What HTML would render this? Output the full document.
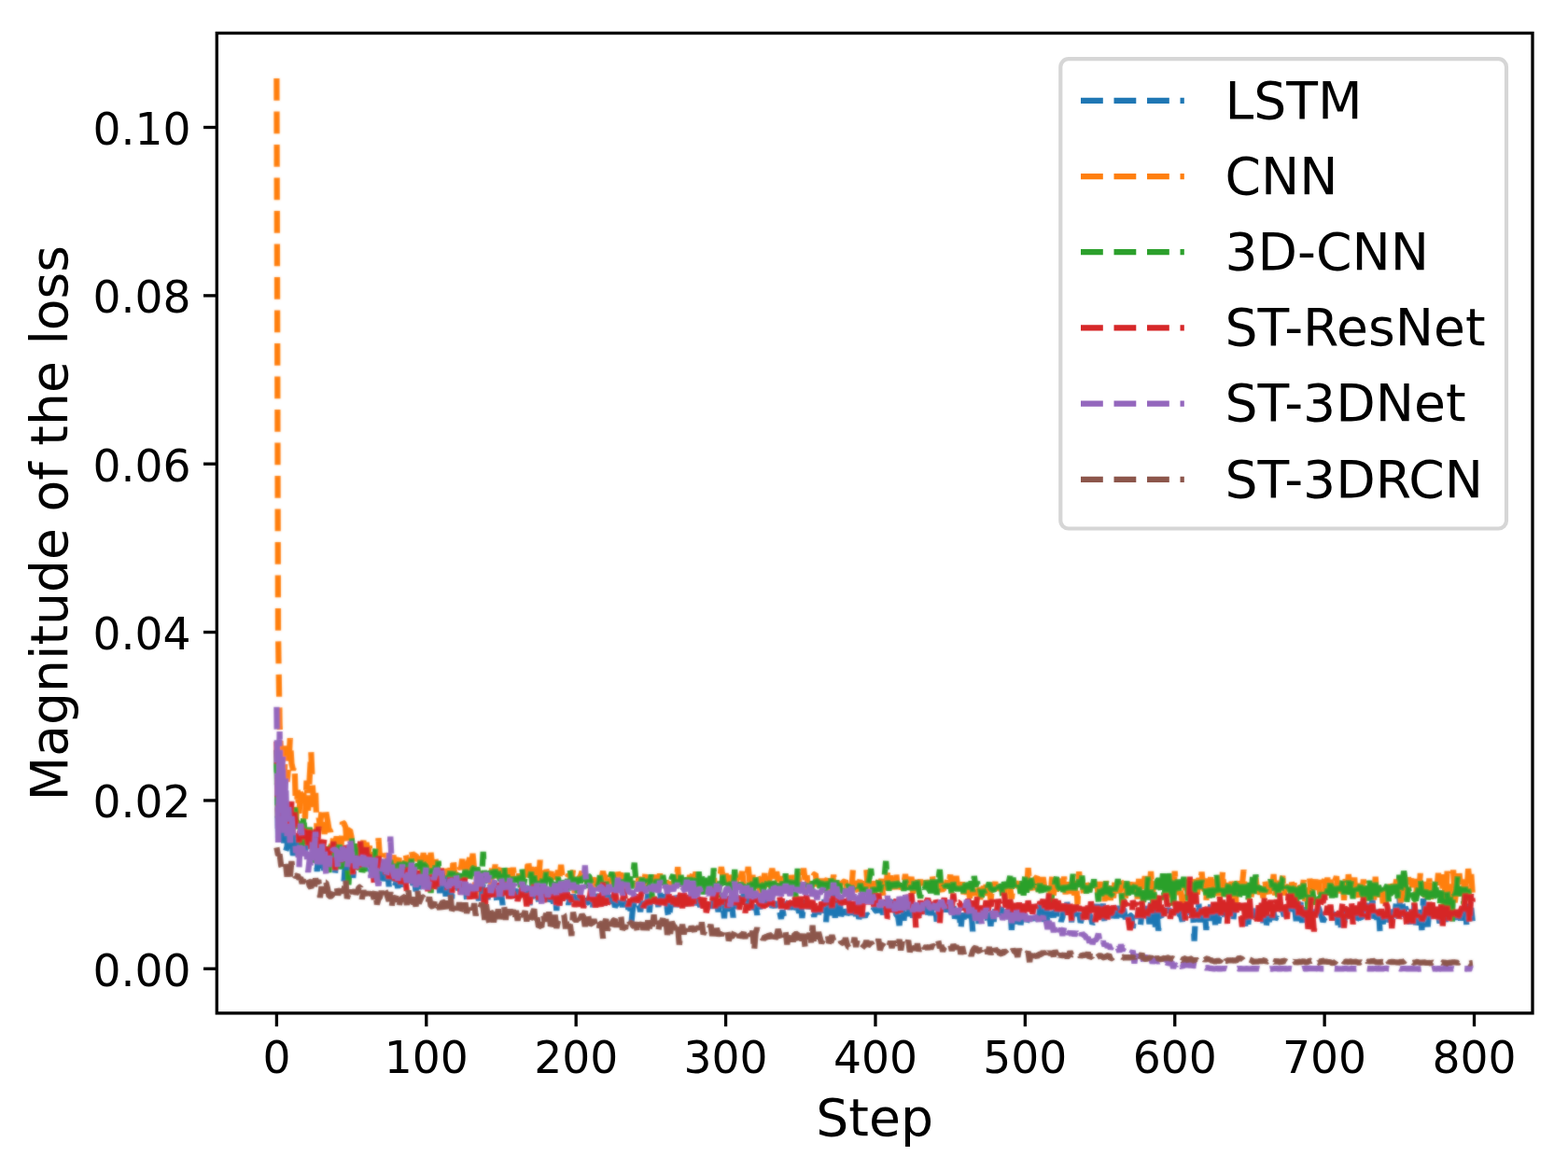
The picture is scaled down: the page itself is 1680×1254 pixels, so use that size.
<!DOCTYPE html>
<html lang="en"><head><meta charset="utf-8"><title>Magnitude of the loss vs Step</title>
<style>html,body{margin:0;padding:0;background:#fff;}body{width:1680px;height:1254px;overflow:hidden;}svg{display:block;}text{font-family:"DejaVu Sans","Liberation Sans",sans-serif;fill:#000;}</style></head><body>
<svg width="1680" height="1254" viewBox="0 0 1680 1254">
<rect x="0" y="0" width="1680" height="1254" fill="#ffffff"/>
<defs><filter id="soft" x="0" y="0" width="1680" height="1254" filterUnits="userSpaceOnUse"><feGaussianBlur in="SourceGraphic" stdDeviation="1.00" result="b"/><feComposite in="SourceGraphic" in2="b" operator="arithmetic" k1="0" k2="0.40" k3="0.60" k4="0"/></filter></defs>
<g fill="none" filter="url(#soft)" stroke-width="6.25" stroke-dasharray="23.80 11.70" stroke-linejoin="bevel" stroke-linecap="butt">
<polyline stroke="#1f77b4" points="296.4,803.8 298.0,898.5 299.6,821.9 301.2,894.0 302.8,848.9 304.4,912.0 306.0,913.2 307.6,907.3 309.2,883.7 310.8,905.3 312.4,888.6 314.0,922.8 315.6,873.0 317.3,912.7 318.9,892.5 320.5,913.4 322.1,898.4 323.7,914.8 325.3,902.8 326.9,912.2 328.5,906.4 330.1,908.5 331.7,898.8 333.3,904.5 334.9,903.2 336.5,923.9 338.1,897.8 339.7,934.0 341.3,911.5 342.9,922.2 344.5,915.8 346.1,938.0 347.7,924.6 349.3,927.8 350.9,916.9 352.5,926.2 354.1,923.7 355.7,927.2 357.3,898.9 359.0,936.4 360.6,918.6 362.2,934.2 363.8,920.8 365.4,920.8 367.0,921.9 368.6,944.4 370.2,921.5 371.8,924.8 373.4,920.2 375.0,934.6 376.6,918.0 378.2,940.9 379.8,926.7 381.4,930.3 383.0,918.3 384.6,933.3 386.2,921.6 387.8,927.9 389.4,919.0 391.0,934.6 392.6,917.3 394.2,926.8 395.8,924.0 397.4,934.2 399.0,923.2 400.7,934.6 402.3,917.1 403.9,930.2 405.5,917.4 407.1,947.8 408.7,931.5 410.3,944.0 411.9,938.2 413.5,937.0 415.1,930.0 416.7,950.3 418.3,933.1 419.9,944.0 421.5,936.8 423.1,949.6 424.7,944.7 426.3,951.9 427.9,941.3 429.5,944.7 431.1,936.3 432.7,950.7 434.3,941.3 435.9,944.2 437.5,937.4 439.1,946.3 440.8,931.2 442.4,948.9 444.0,944.2 445.6,955.2 447.2,941.8 448.8,952.7 450.4,946.7 452.0,948.5 453.6,946.5 455.2,952.1 456.8,946.3 458.4,945.6 460.0,941.1 461.6,954.9 463.2,944.3 464.8,944.8 466.4,930.7 468.0,952.1 469.6,940.6 471.2,957.1 472.8,945.7 474.4,954.8 476.0,940.7 477.6,960.8 479.2,933.5 480.8,958.0 482.5,945.5 484.1,963.2 485.7,938.2 487.3,940.8 488.9,945.2 490.5,959.8 492.1,943.7 493.7,950.9 495.3,958.7 496.9,954.7 498.5,945.4 500.1,964.2 501.7,956.9 503.3,955.6 504.9,951.2 506.5,957.5 508.1,952.5 509.7,959.0 511.3,949.3 512.9,965.4 514.5,946.0 516.1,960.6 517.7,946.9 519.3,956.7 520.9,954.7 522.5,964.1 524.2,951.2 525.8,954.1 527.4,951.5 529.0,957.3 530.6,949.6 532.2,965.2 533.8,957.4 535.4,963.3 537.0,956.6 538.6,970.1 540.2,950.7 541.8,951.6 543.4,947.8 545.0,959.4 546.6,953.8 548.2,959.2 549.8,954.6 551.4,962.4 553.0,952.3 554.6,964.8 556.2,953.2 557.8,960.7 559.4,953.3 561.0,960.7 562.6,949.0 564.3,958.8 565.9,947.2 567.5,970.1 569.1,960.2 570.7,956.6 572.3,947.9 573.9,963.9 575.5,958.2 577.1,966.1 578.7,951.2 580.3,966.8 581.9,957.8 583.5,965.0 585.1,963.2 586.7,965.6 588.3,956.0 589.9,966.6 591.5,961.9 593.1,968.1 594.7,957.6 596.3,975.9 597.9,955.8 599.5,969.7 601.1,956.2 602.7,964.3 604.3,954.7 606.0,964.1 607.6,955.2 609.2,969.8 610.8,961.1 612.4,965.6 614.0,958.6 615.6,967.4 617.2,959.7 618.8,965.5 620.4,961.5 622.0,961.7 623.6,961.3 625.2,971.6 626.8,962.8 628.4,967.8 630.0,967.1 631.6,960.4 633.2,963.0 634.8,976.3 636.4,957.8 638.0,973.7 639.6,968.9 641.2,968.9 642.8,957.7 644.4,973.2 646.1,958.9 647.7,970.6 649.3,958.5 650.9,967.0 652.5,958.9 654.1,972.3 655.7,967.0 657.3,962.5 658.9,972.2 660.5,969.2 662.1,965.6 663.7,971.9 665.3,963.5 666.9,972.1 668.5,959.2 670.1,965.5 671.7,961.1 673.3,974.9 674.9,968.7 676.5,988.9 678.1,972.8 679.7,967.2 681.3,968.3 682.9,973.4 684.5,969.3 686.1,977.2 687.8,965.8 689.4,972.9 691.0,965.2 692.6,972.8 694.2,957.9 695.8,978.0 697.4,962.1 699.0,972.2 700.6,966.7 702.2,966.1 703.8,962.4 705.4,972.0 707.0,955.5 708.6,967.2 710.2,960.9 711.8,969.4 713.4,958.3 715.0,975.7 716.6,985.1 718.2,973.4 719.8,962.3 721.4,969.7 723.0,958.6 724.6,972.2 726.2,962.9 727.8,970.8 729.5,961.0 731.1,966.1 732.7,964.7 734.3,970.8 735.9,966.0 737.5,970.5 739.1,967.4 740.7,964.3 742.3,958.6 743.9,964.4 745.5,961.8 747.1,975.1 748.7,964.8 750.3,972.0 751.9,967.4 753.5,971.6 755.1,967.4 756.7,972.7 758.3,973.0 759.9,972.9 761.5,967.8 763.1,973.4 764.7,965.0 766.3,974.7 767.9,966.9 769.6,977.3 771.2,966.3 772.8,970.6 774.4,968.8 776.0,984.2 777.6,958.8 779.2,975.8 780.8,968.4 782.4,979.1 784.0,968.8 785.6,983.3 787.2,968.8 788.8,973.7 790.4,965.2 792.0,973.1 793.6,960.0 795.2,965.9 796.8,958.2 798.4,972.5 800.0,957.9 801.6,971.0 803.2,967.0 804.8,974.6 806.4,971.5 808.0,974.3 809.6,969.7 811.3,980.8 812.9,962.5 814.5,974.5 816.1,960.6 817.7,970.6 819.3,963.1 820.9,965.5 822.5,967.0 824.1,970.4 825.7,963.8 827.3,972.8 828.9,969.1 830.5,972.9 832.1,966.0 833.7,979.9 835.3,977.2 836.9,984.8 838.5,975.3 840.1,983.8 841.7,971.5 843.3,968.4 844.9,966.4 846.5,975.0 848.1,964.5 849.7,973.9 851.3,969.3 853.0,974.5 854.6,972.0 856.2,978.5 857.8,966.0 859.4,983.9 861.0,970.3 862.6,973.3 864.2,964.6 865.8,973.9 867.4,969.2 869.0,974.5 870.6,973.3 872.2,982.7 873.8,974.8 875.4,973.1 877.0,979.4 878.6,975.7 880.2,974.2 881.8,978.0 883.4,964.1 885.0,989.4 886.6,965.6 888.2,976.0 889.8,969.3 891.4,981.0 893.1,945.7 894.7,983.8 896.3,965.6 897.9,978.8 899.5,962.3 901.1,982.1 902.7,977.4 904.3,979.5 905.9,970.7 907.5,980.5 909.1,977.8 910.7,980.0 912.3,973.5 913.9,985.4 915.5,974.3 917.1,981.8 918.7,971.8 920.3,984.9 921.9,978.6 923.5,978.0 925.1,980.3 926.7,982.9 928.3,979.0 929.9,981.8 931.5,983.5 933.1,981.4 934.8,977.9 936.4,973.4 938.0,975.8 939.6,977.4 941.2,973.1 942.8,975.0 944.4,973.5 946.0,979.9 947.6,976.1 949.2,982.0 950.8,971.2 952.4,973.2 954.0,967.4 955.6,968.3 957.2,964.2 958.8,975.1 960.4,980.7 962.0,981.5 963.6,991.9 965.2,975.3 966.8,974.2 968.4,986.7 970.0,970.3 971.6,971.9 973.2,969.7 974.8,982.1 976.5,967.6 978.1,983.7 979.7,972.8 981.3,978.6 982.9,971.2 984.5,981.8 986.1,970.6 987.7,975.6 989.3,969.5 990.9,978.4 992.5,970.2 994.1,980.3 995.7,972.5 997.3,980.8 998.9,968.5 1000.5,975.3 1002.1,969.7 1003.7,987.8 1005.3,978.6 1006.9,974.6 1008.5,968.1 1010.1,974.7 1011.7,974.2 1013.3,976.6 1014.9,971.8 1016.6,976.5 1018.2,975.7 1019.8,979.3 1021.4,968.8 1023.0,984.6 1024.6,969.7 1026.2,984.9 1027.8,979.3 1029.4,996.9 1031.0,978.6 1032.6,984.9 1034.2,978.9 1035.8,985.5 1037.4,967.9 1039.0,981.7 1040.6,976.2 1042.2,998.2 1043.8,974.2 1045.4,982.7 1047.0,972.1 1048.6,990.0 1050.2,973.6 1051.8,982.2 1053.4,975.5 1055.0,979.5 1056.6,978.5 1058.3,987.4 1059.9,980.9 1061.5,992.7 1063.1,973.3 1064.7,987.8 1066.3,974.3 1067.9,984.8 1069.5,979.6 1071.1,979.4 1072.7,972.3 1074.3,982.0 1075.9,973.7 1077.5,980.8 1079.1,975.1 1080.7,985.0 1082.3,973.5 1083.9,996.8 1085.5,976.2 1087.1,981.3 1088.7,979.2 1090.3,990.4 1091.9,975.7 1093.5,991.2 1095.1,981.1 1096.7,986.4 1098.3,986.4 1100.0,989.3 1101.6,982.2 1103.2,985.6 1104.8,982.5 1106.4,986.7 1108.0,978.6 1109.6,982.4 1111.2,980.4 1112.8,987.5 1114.4,969.7 1116.0,981.9 1117.6,974.5 1119.2,988.0 1120.8,969.1 1122.4,989.6 1124.0,979.1 1125.6,982.6 1127.2,976.9 1128.8,983.3 1130.4,969.5 1132.0,982.1 1133.6,970.8 1135.2,973.9 1136.8,987.8 1138.4,983.1 1140.1,973.4 1141.7,981.8 1143.3,967.0 1144.9,978.1 1146.5,972.6 1148.1,988.4 1149.7,976.3 1151.3,981.5 1152.9,976.8 1154.5,983.9 1156.1,977.9 1157.7,988.9 1159.3,984.1 1160.9,981.2 1162.5,977.3 1164.1,985.8 1165.7,976.7 1167.3,979.6 1168.9,984.0 1170.5,990.1 1172.1,988.2 1173.7,977.6 1175.3,969.0 1176.9,989.7 1178.5,971.8 1180.1,984.3 1181.8,968.5 1183.4,988.3 1185.0,974.9 1186.6,979.2 1188.2,975.5 1189.8,977.3 1191.4,979.6 1193.0,983.5 1194.6,974.1 1196.2,984.3 1197.8,970.9 1199.4,984.1 1201.0,985.3 1202.6,975.0 1204.2,974.3 1205.8,985.1 1207.4,982.2 1209.0,988.3 1210.6,981.1 1212.2,981.2 1213.8,995.0 1215.4,979.2 1217.0,980.7 1218.6,984.2 1220.2,973.9 1221.9,992.5 1223.5,977.6 1225.1,977.2 1226.7,971.2 1228.3,984.1 1229.9,979.0 1231.5,990.4 1233.1,967.2 1234.7,983.2 1236.3,970.5 1237.9,993.6 1239.5,977.6 1241.1,997.6 1242.7,981.7 1244.3,982.7 1245.9,976.6 1247.5,976.3 1249.1,974.2 1250.7,978.0 1252.3,973.6 1253.9,978.6 1255.5,979.1 1257.1,975.6 1258.7,974.2 1260.3,977.3 1261.9,974.5 1263.6,980.3 1265.2,981.5 1266.8,987.7 1268.4,967.2 1270.0,983.1 1271.6,981.8 1273.2,974.5 1274.8,973.3 1276.4,980.4 1278.0,975.6 1279.6,1008.5 1281.2,974.7 1282.8,988.2 1284.4,968.7 1286.0,991.7 1287.6,973.1 1289.2,986.8 1290.8,976.2 1292.4,996.8 1294.0,972.3 1295.6,988.1 1297.2,969.4 1298.8,979.5 1300.4,970.8 1302.0,991.2 1303.6,970.4 1305.3,989.7 1306.9,977.5 1308.5,981.3 1310.1,977.2 1311.7,981.6 1313.3,978.1 1314.9,983.0 1316.5,977.7 1318.1,980.1 1319.7,980.2 1321.3,987.5 1322.9,970.0 1324.5,978.4 1326.1,976.0 1327.7,980.6 1329.3,981.4 1330.9,986.8 1332.5,986.1 1334.1,992.5 1335.7,977.6 1337.3,990.6 1338.9,975.2 1340.5,986.3 1342.1,973.8 1343.7,983.7 1345.4,976.5 1347.0,985.8 1348.6,975.2 1350.2,984.9 1351.8,977.8 1353.4,989.1 1355.0,976.6 1356.6,994.0 1358.2,980.8 1359.8,988.0 1361.4,977.1 1363.0,985.9 1364.6,977.6 1366.2,985.5 1367.8,982.9 1369.4,985.8 1371.0,981.5 1372.6,981.9 1374.2,974.5 1375.8,982.1 1377.4,976.9 1379.0,984.8 1380.6,969.4 1382.2,976.9 1383.8,969.0 1385.4,976.3 1387.1,971.6 1388.7,987.2 1390.3,973.5 1391.9,974.0 1393.5,967.0 1395.1,989.0 1396.7,974.4 1398.3,981.7 1399.9,972.6 1401.5,979.7 1403.1,975.1 1404.7,982.4 1406.3,977.0 1407.9,981.2 1409.5,975.1 1411.1,982.2 1412.7,972.3 1414.3,977.4 1415.9,982.3 1417.5,988.0 1419.1,984.0 1420.7,982.8 1422.3,986.3 1423.9,982.8 1425.5,971.4 1427.1,981.8 1428.8,974.8 1430.4,977.1 1432.0,976.0 1433.6,991.3 1435.2,979.0 1436.8,993.9 1438.4,976.2 1440.0,990.2 1441.6,979.2 1443.2,978.9 1444.8,980.6 1446.4,979.0 1448.0,973.9 1449.6,982.3 1451.2,985.5 1452.8,986.9 1454.4,982.4 1456.0,984.1 1457.6,983.3 1459.2,984.4 1460.8,976.6 1462.4,982.9 1464.0,974.7 1465.6,980.9 1467.2,967.9 1468.9,983.3 1470.5,962.9 1472.1,984.6 1473.7,978.4 1475.3,985.7 1476.9,971.3 1478.5,998.0 1480.1,984.8 1481.7,990.2 1483.3,978.6 1484.9,979.5 1486.5,981.7 1488.1,991.3 1489.7,976.6 1491.3,988.8 1492.9,974.5 1494.5,981.4 1496.1,964.3 1497.7,984.6 1499.3,962.3 1500.9,982.6 1502.5,968.0 1504.1,980.4 1505.7,972.2 1507.3,976.3 1508.9,981.1 1510.6,990.4 1512.2,974.7 1513.8,987.5 1515.4,968.6 1517.0,991.4 1518.6,981.6 1520.2,982.9 1521.8,975.1 1523.4,996.9 1525.0,963.1 1526.6,981.6 1528.2,983.0 1529.8,993.2 1531.4,972.0 1533.0,984.9 1534.6,971.6 1536.2,983.7 1537.8,973.6 1539.4,984.0 1541.0,981.6 1542.6,989.3 1544.2,975.0 1545.8,990.3 1547.4,971.5 1549.0,987.8 1550.6,976.7 1552.3,985.3 1553.9,974.9 1555.5,992.5 1557.1,976.4 1558.7,985.7 1560.3,977.4 1561.9,977.1 1563.5,979.7 1565.1,986.2 1566.7,976.2 1568.3,983.3 1569.9,968.7 1571.5,995.0 1573.1,970.7 1574.7,986.0 1576.3,973.0 1577.9,989.0"/>
<polyline stroke="#ff7f0e" points="296.4,83.9 298.0,677.6 299.6,776.8 301.2,808.3 302.8,819.4 304.4,835.9 306.0,799.5 307.6,838.0 309.2,820.0 310.8,791.2 312.4,818.3 314.0,825.3 315.6,820.1 317.3,878.5 318.9,846.8 320.5,872.0 322.1,847.8 323.7,860.6 325.3,849.8 326.9,877.6 328.5,836.6 330.1,868.9 331.7,833.8 333.3,805.6 334.9,843.1 336.5,865.0 338.1,849.9 339.7,894.8 341.3,874.0 342.9,885.0 344.5,869.8 346.1,879.8 347.7,894.0 349.3,870.6 350.9,879.3 352.5,889.1 354.1,890.9 355.7,913.1 357.3,895.2 359.0,909.6 360.6,896.3 362.2,912.2 363.8,905.1 365.4,908.4 367.0,881.3 368.6,882.7 370.2,886.5 371.8,905.9 373.4,889.9 375.0,889.5 376.6,897.4 378.2,915.3 379.8,905.8 381.4,912.4 383.0,903.5 384.6,909.0 386.2,903.0 387.8,910.9 389.4,900.8 391.0,927.0 392.6,902.8 394.2,914.9 395.8,906.8 397.4,918.2 399.0,913.7 400.7,921.7 402.3,910.4 403.9,930.4 405.5,898.3 407.1,921.2 408.7,918.2 410.3,920.8 411.9,915.4 413.5,918.2 415.1,915.1 416.7,926.5 418.3,928.3 419.9,927.1 421.5,916.4 423.1,941.9 424.7,922.7 426.3,927.7 427.9,918.6 429.5,922.9 431.1,921.1 432.7,935.6 434.3,913.5 435.9,922.4 437.5,919.4 439.1,926.6 440.8,910.5 442.4,919.8 444.0,916.8 445.6,916.6 447.2,922.6 448.8,919.6 450.4,912.8 452.0,927.0 453.6,914.1 455.2,934.6 456.8,912.8 458.4,928.9 460.0,939.9 461.6,913.9 463.2,928.1 464.8,928.2 466.4,919.5 468.0,931.8 469.6,923.8 471.2,943.0 472.8,931.1 474.4,937.0 476.0,932.3 477.6,940.2 479.2,931.2 480.8,936.6 482.5,930.6 484.1,947.6 485.7,918.8 487.3,940.9 488.9,931.0 490.5,925.8 492.1,927.9 493.7,931.9 495.3,920.8 496.9,934.9 498.5,924.0 500.1,941.7 501.7,924.7 503.3,919.3 504.9,932.4 506.5,914.8 508.1,931.6 509.7,962.1 511.3,931.3 512.9,936.3 514.5,936.6 516.1,936.8 517.7,931.5 519.3,942.1 520.9,940.1 522.5,945.4 524.2,935.8 525.8,953.1 527.4,925.2 529.0,940.1 530.6,926.6 532.2,941.2 533.8,930.8 535.4,936.0 537.0,928.8 538.6,948.3 540.2,939.5 541.8,950.9 543.4,930.6 545.0,939.2 546.6,932.9 548.2,943.3 549.8,929.9 551.4,942.8 553.0,941.3 554.6,944.9 556.2,936.6 557.8,943.9 559.4,931.7 561.0,937.0 562.6,933.7 564.3,940.1 565.9,920.0 567.5,936.4 569.1,929.0 570.7,946.8 572.3,930.7 573.9,932.7 575.5,930.9 577.1,944.0 578.7,921.6 580.3,944.9 581.9,933.3 583.5,936.7 585.1,929.3 586.7,942.1 588.3,937.5 589.9,939.2 591.5,929.0 593.1,942.1 594.7,939.1 596.3,941.4 597.9,932.8 599.5,943.2 601.1,926.8 602.7,941.4 604.3,940.4 606.0,943.2 607.6,940.6 609.2,937.8 610.8,938.4 612.4,944.8 614.0,932.4 615.6,957.2 617.2,943.5 618.8,949.1 620.4,941.0 622.0,939.1 623.6,933.8 625.2,945.6 626.8,935.0 628.4,944.9 630.0,938.5 631.6,947.8 633.2,945.0 634.8,945.4 636.4,940.7 638.0,952.9 639.6,943.1 641.2,946.0 642.8,942.6 644.4,942.1 646.1,933.6 647.7,944.1 649.3,937.4 650.9,936.4 652.5,933.6 654.1,951.3 655.7,936.9 657.3,947.1 658.9,935.3 660.5,948.8 662.1,934.9 663.7,939.2 665.3,936.0 666.9,943.7 668.5,937.1 670.1,952.7 671.7,947.7 673.3,951.0 674.9,949.0 676.5,940.8 678.1,944.6 679.7,947.3 681.3,945.6 682.9,951.1 684.5,940.2 686.1,945.8 687.8,940.4 689.4,942.3 691.0,937.4 692.6,952.7 694.2,939.8 695.8,946.3 697.4,940.6 699.0,944.8 700.6,937.7 702.2,949.6 703.8,949.7 705.4,946.6 707.0,936.4 708.6,945.9 710.2,937.3 711.8,940.9 713.4,942.9 715.0,948.8 716.6,944.8 718.2,952.5 719.8,945.7 721.4,951.9 723.0,938.2 724.6,949.6 726.2,929.2 727.8,953.6 729.5,944.0 731.1,949.6 732.7,946.1 734.3,953.9 735.9,944.2 737.5,947.2 739.1,938.0 740.7,944.4 742.3,935.2 743.9,946.7 745.5,934.3 747.1,953.5 748.7,943.9 750.3,947.0 751.9,943.5 753.5,953.2 755.1,942.5 756.7,954.4 758.3,946.1 759.9,942.8 761.5,937.3 763.1,955.3 764.7,936.5 766.3,954.7 767.9,943.7 769.6,943.3 771.2,943.8 772.8,929.2 774.4,939.3 776.0,949.5 777.6,936.1 779.2,947.2 780.8,942.5 782.4,947.9 784.0,937.9 785.6,944.4 787.2,943.5 788.8,945.7 790.4,939.7 792.0,948.8 793.6,940.5 795.2,934.1 796.8,947.4 798.4,946.2 800.0,944.3 801.6,929.2 803.2,944.2 804.8,948.2 806.4,937.8 808.0,952.5 809.6,936.8 811.3,937.3 812.9,942.0 814.5,959.0 816.1,939.9 817.7,947.2 819.3,936.0 820.9,949.9 822.5,946.3 824.1,943.7 825.7,937.8 827.3,931.0 828.9,938.7 830.5,943.9 832.1,934.2 833.7,944.7 835.3,937.7 836.9,947.6 838.5,939.1 840.1,950.6 841.7,943.9 843.3,949.0 844.9,942.7 846.5,947.5 848.1,938.2 849.7,945.1 851.3,939.6 853.0,946.0 854.6,935.7 856.2,944.3 857.8,942.7 859.4,945.9 861.0,930.6 862.6,943.1 864.2,932.9 865.8,953.3 867.4,944.4 869.0,946.6 870.6,942.0 872.2,937.2 873.8,936.5 875.4,950.2 877.0,939.8 878.6,950.9 880.2,941.7 881.8,950.8 883.4,939.6 885.0,944.4 886.6,941.8 888.2,959.1 889.8,946.3 891.4,952.0 893.1,937.5 894.7,953.8 896.3,943.9 897.9,949.8 899.5,947.0 901.1,954.5 902.7,945.2 904.3,945.2 905.9,943.6 907.5,955.6 909.1,945.9 910.7,953.0 912.3,953.9 913.9,932.3 915.5,939.0 917.1,953.5 918.7,954.2 920.3,950.5 921.9,940.6 923.5,953.9 925.1,945.7 926.7,950.6 928.3,932.3 929.9,952.7 931.5,948.9 933.1,952.8 934.8,944.7 936.4,951.6 938.0,948.4 939.6,947.4 941.2,943.8 942.8,953.1 944.4,942.0 946.0,959.6 947.6,948.2 949.2,953.8 950.8,935.5 952.4,951.6 954.0,938.3 955.6,953.3 957.2,940.7 958.8,953.3 960.4,937.7 962.0,952.3 963.6,949.6 965.2,949.9 966.8,942.8 968.4,947.2 970.0,936.9 971.6,951.6 973.2,948.2 974.8,949.6 976.5,939.7 978.1,957.5 979.7,948.5 981.3,950.3 982.9,943.1 984.5,949.6 986.1,942.7 987.7,954.1 989.3,950.0 990.9,947.5 992.5,944.4 994.1,946.4 995.7,951.4 997.3,955.5 998.9,937.8 1000.5,955.6 1002.1,940.5 1003.7,949.6 1005.3,947.0 1006.9,950.0 1008.5,947.4 1010.1,961.3 1011.7,945.6 1013.3,951.6 1014.9,942.0 1016.6,947.3 1018.2,937.6 1019.8,952.5 1021.4,943.4 1023.0,948.1 1024.6,939.0 1026.2,951.0 1027.8,946.7 1029.4,954.8 1031.0,945.4 1032.6,958.3 1034.2,944.7 1035.8,959.0 1037.4,945.7 1039.0,962.8 1040.6,944.0 1042.2,958.5 1043.8,953.6 1045.4,959.8 1047.0,946.2 1048.6,953.1 1050.2,963.9 1051.8,957.0 1053.4,945.4 1055.0,959.8 1056.6,948.1 1058.3,955.9 1059.9,950.5 1061.5,965.5 1063.1,949.2 1064.7,955.3 1066.3,945.0 1067.9,960.0 1069.5,953.2 1071.1,950.4 1072.7,953.4 1074.3,954.3 1075.9,951.4 1077.5,964.0 1079.1,952.5 1080.7,949.9 1082.3,951.7 1083.9,963.3 1085.5,949.3 1087.1,947.8 1088.7,944.8 1090.3,951.5 1091.9,947.9 1093.5,954.0 1095.1,945.1 1096.7,958.0 1098.3,947.7 1100.0,956.1 1101.6,930.3 1103.2,949.4 1104.8,949.9 1106.4,953.8 1108.0,943.7 1109.6,941.4 1111.2,939.5 1112.8,956.0 1114.4,940.9 1116.0,955.0 1117.6,940.2 1119.2,951.6 1120.8,949.8 1122.4,950.3 1124.0,947.5 1125.6,957.5 1127.2,939.9 1128.8,959.8 1130.4,941.4 1132.0,955.3 1133.6,947.6 1135.2,951.0 1136.8,938.8 1138.4,953.8 1140.1,939.6 1141.7,958.5 1143.3,945.2 1144.9,960.8 1146.5,947.3 1148.1,956.6 1149.7,946.5 1151.3,959.5 1152.9,943.5 1154.5,969.3 1156.1,934.2 1157.7,952.5 1159.3,941.7 1160.9,957.5 1162.5,963.3 1164.1,946.9 1165.7,950.0 1167.3,954.5 1168.9,947.0 1170.5,950.5 1172.1,945.7 1173.7,948.7 1175.3,945.9 1176.9,962.6 1178.5,945.1 1180.1,956.6 1181.8,952.3 1183.4,966.1 1185.0,944.6 1186.6,950.4 1188.2,951.7 1189.8,964.9 1191.4,946.4 1193.0,962.5 1194.6,943.4 1196.2,951.6 1197.8,951.5 1199.4,956.8 1201.0,951.2 1202.6,946.6 1204.2,946.0 1205.8,962.7 1207.4,946.4 1209.0,957.9 1210.6,945.5 1212.2,955.7 1213.8,942.3 1215.4,956.8 1217.0,945.8 1218.6,963.5 1220.2,942.0 1221.9,953.4 1223.5,949.9 1225.1,951.4 1226.7,939.1 1228.3,954.9 1229.9,941.1 1231.5,957.0 1233.1,934.0 1234.7,960.8 1236.3,944.7 1237.9,950.9 1239.5,952.6 1241.1,952.7 1242.7,947.4 1244.3,951.3 1245.9,943.2 1247.5,955.7 1249.1,944.5 1250.7,957.3 1252.3,948.6 1253.9,961.5 1255.5,953.3 1257.1,964.4 1258.7,933.7 1260.3,956.9 1261.9,949.2 1263.6,963.3 1265.2,954.9 1266.8,968.1 1268.4,947.0 1270.0,953.8 1271.6,942.9 1273.2,955.2 1274.8,952.6 1276.4,953.7 1278.0,942.7 1279.6,949.7 1281.2,944.9 1282.8,958.7 1284.4,941.1 1286.0,947.8 1287.6,934.5 1289.2,952.5 1290.8,953.5 1292.4,965.0 1294.0,935.2 1295.6,950.0 1297.2,940.3 1298.8,958.0 1300.4,943.0 1302.0,946.8 1303.6,945.7 1305.3,960.2 1306.9,940.0 1308.5,956.1 1310.1,932.7 1311.7,960.8 1313.3,946.4 1314.9,953.0 1316.5,946.1 1318.1,964.2 1319.7,944.7 1321.3,968.5 1322.9,939.5 1324.5,969.7 1326.1,944.1 1327.7,959.0 1329.3,951.1 1330.9,948.7 1332.5,932.2 1334.1,958.4 1335.7,951.9 1337.3,943.6 1338.9,943.5 1340.5,961.4 1342.1,948.3 1343.7,950.9 1345.4,940.7 1347.0,952.1 1348.6,952.9 1350.2,958.4 1351.8,948.7 1353.4,962.5 1355.0,941.5 1356.6,952.0 1358.2,954.1 1359.8,957.8 1361.4,943.0 1363.0,950.7 1364.6,937.0 1366.2,959.6 1367.8,948.4 1369.4,950.9 1371.0,938.6 1372.6,949.5 1374.2,938.7 1375.8,959.6 1377.4,948.5 1379.0,952.0 1380.6,949.0 1382.2,954.0 1383.8,944.2 1385.4,957.4 1387.1,943.2 1388.7,970.5 1390.3,964.8 1391.9,951.3 1393.5,950.9 1395.1,955.5 1396.7,943.1 1398.3,965.9 1399.9,954.5 1401.5,943.2 1403.1,940.7 1404.7,958.0 1406.3,945.3 1407.9,953.6 1409.5,942.5 1411.1,957.5 1412.7,943.1 1414.3,958.7 1415.9,954.7 1417.5,947.2 1419.1,942.4 1420.7,958.9 1422.3,940.5 1423.9,964.1 1425.5,942.8 1427.1,953.9 1428.8,949.7 1430.4,943.8 1432.0,939.2 1433.6,960.6 1435.2,945.9 1436.8,955.2 1438.4,940.7 1440.0,964.9 1441.6,942.1 1443.2,957.5 1444.8,937.2 1446.4,948.9 1448.0,948.0 1449.6,954.3 1451.2,940.5 1452.8,964.3 1454.4,957.2 1456.0,961.4 1457.6,946.8 1459.2,962.1 1460.8,942.6 1462.4,960.8 1464.0,950.1 1465.6,956.3 1467.2,944.7 1468.9,961.7 1470.5,943.4 1472.1,964.6 1473.7,939.8 1475.3,962.1 1476.9,949.9 1478.5,961.7 1480.1,951.0 1481.7,968.3 1483.3,953.4 1484.9,967.5 1486.5,949.2 1488.1,960.9 1489.7,947.8 1491.3,951.3 1492.9,950.9 1494.5,960.7 1496.1,942.4 1497.7,955.1 1499.3,949.1 1500.9,967.4 1502.5,944.0 1504.1,964.6 1505.7,946.5 1507.3,960.2 1508.9,940.4 1510.6,947.4 1512.2,941.7 1513.8,956.9 1515.4,954.9 1517.0,961.0 1518.6,942.1 1520.2,957.4 1521.8,936.1 1523.4,952.5 1525.0,945.4 1526.6,966.1 1528.2,944.9 1529.8,961.9 1531.4,941.5 1533.0,963.7 1534.6,951.8 1536.2,950.6 1537.8,946.9 1539.4,953.2 1541.0,935.7 1542.6,951.9 1544.2,937.2 1545.8,953.7 1547.4,942.6 1549.0,965.9 1550.6,933.7 1552.3,959.5 1553.9,945.7 1555.5,963.8 1557.1,932.4 1558.7,967.4 1560.3,954.8 1561.9,960.7 1563.5,936.1 1565.1,951.7 1566.7,949.3 1568.3,954.4 1569.9,942.6 1571.5,956.7 1573.1,931.1 1574.7,945.6 1576.3,936.9 1577.9,960.0"/>
<polyline stroke="#2ca02c" points="296.4,817.4 298.0,885.0 299.6,826.4 301.2,876.0 302.8,844.4 304.4,867.2 306.0,861.2 307.6,877.3 309.2,867.7 310.8,880.6 312.4,870.9 314.0,879.2 315.6,859.5 317.3,880.2 318.9,881.2 320.5,893.4 322.1,885.6 323.7,910.3 325.3,873.6 326.9,904.3 328.5,900.9 330.1,903.8 331.7,886.7 333.3,905.7 334.9,904.1 336.5,924.7 338.1,894.9 339.7,912.1 341.3,903.7 342.9,916.4 344.5,899.7 346.1,909.7 347.7,907.9 349.3,914.6 350.9,911.9 352.5,935.2 354.1,905.9 355.7,925.4 357.3,903.8 359.0,923.5 360.6,911.9 362.2,916.7 363.8,905.1 365.4,931.2 367.0,915.6 368.6,928.1 370.2,914.2 371.8,921.8 373.4,948.3 375.0,920.0 376.6,895.8 378.2,916.0 379.8,903.4 381.4,916.8 383.0,904.2 384.6,932.6 386.2,911.0 387.8,940.9 389.4,923.2 391.0,936.1 392.6,910.5 394.2,920.9 395.8,920.1 397.4,921.2 399.0,923.8 400.7,929.8 402.3,909.3 403.9,936.4 405.5,923.8 407.1,932.1 408.7,927.4 410.3,930.0 411.9,923.3 413.5,924.3 415.1,922.0 416.7,932.4 418.3,921.7 419.9,937.1 421.5,924.7 423.1,938.8 424.7,934.3 426.3,938.9 427.9,923.9 429.5,936.8 431.1,921.3 432.7,926.2 434.3,924.1 435.9,947.3 437.5,939.4 439.1,936.0 440.8,920.4 442.4,935.9 444.0,932.3 445.6,928.5 447.2,927.4 448.8,931.1 450.4,922.1 452.0,937.5 453.6,925.3 455.2,927.3 456.8,928.4 458.4,949.2 460.0,933.2 461.6,957.1 463.2,930.2 464.8,939.5 466.4,927.6 468.0,941.2 469.6,922.8 471.2,946.0 472.8,936.2 474.4,940.5 476.0,937.2 477.6,936.4 479.2,934.4 480.8,940.8 482.5,933.8 484.1,941.6 485.7,934.3 487.3,940.9 488.9,937.2 490.5,939.7 492.1,936.3 493.7,948.9 495.3,934.1 496.9,943.3 498.5,932.2 500.1,938.6 501.7,935.1 503.3,942.6 504.9,935.1 506.5,930.7 508.1,929.4 509.7,943.6 511.3,929.5 512.9,938.1 514.5,936.8 516.1,941.4 517.7,912.9 519.3,946.4 520.9,940.1 522.5,946.4 524.2,934.1 525.8,935.4 527.4,938.6 529.0,940.4 530.6,931.5 532.2,940.4 533.8,933.9 535.4,941.9 537.0,943.4 538.6,945.9 540.2,927.4 541.8,944.2 543.4,937.6 545.0,945.0 546.6,940.4 548.2,949.2 549.8,939.8 551.4,944.8 553.0,942.2 554.6,945.6 556.2,938.4 557.8,951.2 559.4,930.3 561.0,948.4 562.6,939.9 564.3,941.5 565.9,943.0 567.5,944.4 569.1,934.2 570.7,956.4 572.3,938.6 573.9,949.0 575.5,941.2 577.1,952.2 578.7,944.6 580.3,948.0 581.9,936.4 583.5,950.1 585.1,934.7 586.7,945.9 588.3,942.6 589.9,941.9 591.5,950.8 593.1,952.9 594.7,944.7 596.3,949.0 597.9,939.8 599.5,952.4 601.1,938.6 602.7,954.7 604.3,943.8 606.0,946.5 607.6,938.3 609.2,954.4 610.8,932.4 612.4,945.4 614.0,941.6 615.6,951.6 617.2,939.9 618.8,957.3 620.4,943.2 622.0,946.1 623.6,939.4 625.2,943.8 626.8,937.8 628.4,952.4 630.0,938.5 631.6,939.8 633.2,945.9 634.8,947.9 636.4,943.8 638.0,942.6 639.6,946.0 641.2,949.3 642.8,938.2 644.4,948.1 646.1,942.3 647.7,952.7 649.3,945.1 650.9,953.8 652.5,943.7 654.1,939.3 655.7,935.1 657.3,940.8 658.9,951.5 660.5,950.5 662.1,942.9 663.7,952.3 665.3,942.6 666.9,952.1 668.5,944.5 670.1,949.4 671.7,935.7 673.3,947.9 674.9,939.6 676.5,952.4 678.1,939.4 679.7,924.7 681.3,943.4 682.9,940.0 684.5,940.3 686.1,948.4 687.8,940.9 689.4,946.5 691.0,942.3 692.6,949.5 694.2,946.0 695.8,952.8 697.4,937.2 699.0,967.9 700.6,947.0 702.2,950.2 703.8,942.4 705.4,951.2 707.0,948.2 708.6,952.4 710.2,937.9 711.8,948.5 713.4,945.8 715.0,946.3 716.6,948.7 718.2,949.5 719.8,940.9 721.4,937.7 723.0,948.8 724.6,946.0 726.2,944.0 727.8,951.3 729.5,938.0 731.1,950.2 732.7,937.8 734.3,946.9 735.9,941.9 737.5,953.4 739.1,940.1 740.7,954.1 742.3,940.7 743.9,953.4 745.5,940.8 747.1,948.5 748.7,934.3 750.3,950.1 751.9,937.8 753.5,958.6 755.1,940.9 756.7,952.7 758.3,943.3 759.9,948.6 761.5,938.9 763.1,960.7 764.7,930.3 766.3,960.0 767.9,951.1 769.6,962.8 771.2,944.5 772.8,955.5 774.4,937.7 776.0,948.0 777.6,942.7 779.2,956.3 780.8,947.8 782.4,947.3 784.0,949.2 785.6,956.6 787.2,932.0 788.8,950.3 790.4,948.2 792.0,949.7 793.6,946.3 795.2,949.5 796.8,948.4 798.4,954.1 800.0,945.6 801.6,961.7 803.2,946.0 804.8,957.2 806.4,944.9 808.0,960.6 809.6,940.4 811.3,952.5 812.9,944.1 814.5,946.8 816.1,950.3 817.7,955.8 819.3,947.9 820.9,948.7 822.5,943.7 824.1,950.4 825.7,944.3 827.3,961.5 828.9,944.5 830.5,948.6 832.1,947.3 833.7,958.6 835.3,945.4 836.9,953.1 838.5,944.6 840.1,953.5 841.7,936.2 843.3,959.2 844.9,944.8 846.5,948.0 848.1,943.3 849.7,957.8 851.3,947.0 853.0,964.5 854.6,931.0 856.2,955.0 857.8,951.3 859.4,951.3 861.0,946.7 862.6,949.2 864.2,943.2 865.8,950.2 867.4,948.3 869.0,955.2 870.6,944.4 872.2,953.3 873.8,943.3 875.4,944.5 877.0,945.3 878.6,951.8 880.2,941.9 881.8,954.5 883.4,945.0 885.0,959.8 886.6,944.5 888.2,952.8 889.8,937.0 891.4,952.8 893.1,943.1 894.7,956.4 896.3,943.5 897.9,959.3 899.5,946.7 901.1,956.1 902.7,952.6 904.3,959.6 905.9,951.1 907.5,950.0 909.1,948.8 910.7,956.0 912.3,949.8 913.9,953.5 915.5,947.4 917.1,949.1 918.7,949.1 920.3,953.1 921.9,947.1 923.5,955.8 925.1,956.1 926.7,955.5 928.3,944.2 929.9,948.2 931.5,941.1 933.1,931.0 934.8,948.5 936.4,962.2 938.0,949.1 939.6,952.5 941.2,943.8 942.8,955.9 944.4,947.4 946.0,948.1 947.6,940.1 949.2,922.9 950.8,944.4 952.4,954.4 954.0,947.4 955.6,955.6 957.2,944.9 958.8,951.8 960.4,945.1 962.0,947.7 963.6,948.2 965.2,954.0 966.8,945.8 968.4,954.7 970.0,943.2 971.6,951.1 973.2,947.4 974.8,953.4 976.5,949.5 978.1,954.1 979.7,944.4 981.3,950.8 982.9,943.6 984.5,955.3 986.1,962.7 987.7,953.9 989.3,949.5 990.9,952.6 992.5,944.1 994.1,951.5 995.7,953.5 997.3,956.7 998.9,942.5 1000.5,957.3 1002.1,940.7 1003.7,959.1 1005.3,943.3 1006.9,931.9 1008.5,952.4 1010.1,954.1 1011.7,948.9 1013.3,950.9 1014.9,947.5 1016.6,951.7 1018.2,949.3 1019.8,958.3 1021.4,945.4 1023.0,953.9 1024.6,950.3 1026.2,954.8 1027.8,949.4 1029.4,955.0 1031.0,949.7 1032.6,957.3 1034.2,946.4 1035.8,950.0 1037.4,951.0 1039.0,957.5 1040.6,944.4 1042.2,955.9 1043.8,939.0 1045.4,950.5 1047.0,944.7 1048.6,957.2 1050.2,953.5 1051.8,961.6 1053.4,953.4 1055.0,957.0 1056.6,946.2 1058.3,950.6 1059.9,945.9 1061.5,953.2 1063.1,953.5 1064.7,954.5 1066.3,951.7 1067.9,953.4 1069.5,944.9 1071.1,953.0 1072.7,947.5 1074.3,960.5 1075.9,945.4 1077.5,949.7 1079.1,950.8 1080.7,946.1 1082.3,939.0 1083.9,952.5 1085.5,940.6 1087.1,952.1 1088.7,945.5 1090.3,946.6 1091.9,947.0 1093.5,957.7 1095.1,944.4 1096.7,959.8 1098.3,938.1 1100.0,956.5 1101.6,943.5 1103.2,955.6 1104.8,941.2 1106.4,949.5 1108.0,948.4 1109.6,953.0 1111.2,948.4 1112.8,955.6 1114.4,946.9 1116.0,959.4 1117.6,948.8 1119.2,955.4 1120.8,951.5 1122.4,954.2 1124.0,949.9 1125.6,974.0 1127.2,957.6 1128.8,957.0 1130.4,944.1 1132.0,940.2 1133.6,951.0 1135.2,952.2 1136.8,956.2 1138.4,961.2 1140.1,948.8 1141.7,953.6 1143.3,948.9 1144.9,960.3 1146.5,948.2 1148.1,949.8 1149.7,936.8 1151.3,954.3 1152.9,946.8 1154.5,950.4 1156.1,942.5 1157.7,950.7 1159.3,938.5 1160.9,957.0 1162.5,951.3 1164.1,957.2 1165.7,949.1 1167.3,956.4 1168.9,943.1 1170.5,951.6 1172.1,942.5 1173.7,955.2 1175.3,952.1 1176.9,966.3 1178.5,949.6 1180.1,960.0 1181.8,952.5 1183.4,954.6 1185.0,944.8 1186.6,959.0 1188.2,949.9 1189.8,959.5 1191.4,959.2 1193.0,947.8 1194.6,954.7 1196.2,951.1 1197.8,942.4 1199.4,951.5 1201.0,950.2 1202.6,971.5 1204.2,954.4 1205.8,954.7 1207.4,944.6 1209.0,962.4 1210.6,952.0 1212.2,958.0 1213.8,949.2 1215.4,952.1 1217.0,946.1 1218.6,960.9 1220.2,950.6 1221.9,961.9 1223.5,955.0 1225.1,967.0 1226.7,953.0 1228.3,961.2 1229.9,939.8 1231.5,964.3 1233.1,953.3 1234.7,970.6 1236.3,956.3 1237.9,964.8 1239.5,944.6 1241.1,942.5 1242.7,944.6 1244.3,958.5 1245.9,936.1 1247.5,964.6 1249.1,939.5 1250.7,959.4 1252.3,936.1 1253.9,951.4 1255.5,942.1 1257.1,974.9 1258.7,943.0 1260.3,954.0 1261.9,942.7 1263.6,958.9 1265.2,956.3 1266.8,952.1 1268.4,939.8 1270.0,955.3 1271.6,945.8 1273.2,965.5 1274.8,945.1 1276.4,963.4 1278.0,949.9 1279.6,958.0 1281.2,938.6 1282.8,949.6 1284.4,948.2 1286.0,952.4 1287.6,943.4 1289.2,952.6 1290.8,950.5 1292.4,959.1 1294.0,953.0 1295.6,962.4 1297.2,950.5 1298.8,961.3 1300.4,955.6 1302.0,956.7 1303.6,937.9 1305.3,954.2 1306.9,953.1 1308.5,960.3 1310.1,951.9 1311.7,960.6 1313.3,954.8 1314.9,953.3 1316.5,944.3 1318.1,960.3 1319.7,949.9 1321.3,964.0 1322.9,947.1 1324.5,947.2 1326.1,953.3 1327.7,964.4 1329.3,947.7 1330.9,957.0 1332.5,949.4 1334.1,959.4 1335.7,947.7 1337.3,965.1 1338.9,946.0 1340.5,958.2 1342.1,939.9 1343.7,959.9 1345.4,937.4 1347.0,953.4 1348.6,951.5 1350.2,950.8 1351.8,955.5 1353.4,951.4 1355.0,955.9 1356.6,952.8 1358.2,948.9 1359.8,950.0 1361.4,942.7 1363.0,950.9 1364.6,946.0 1366.2,956.8 1367.8,949.6 1369.4,961.3 1371.0,940.3 1372.6,954.3 1374.2,941.2 1375.8,939.2 1377.4,944.9 1379.0,952.2 1380.6,950.5 1382.2,954.5 1383.8,958.2 1385.4,952.6 1387.1,951.3 1388.7,970.3 1390.3,951.2 1391.9,960.4 1393.5,949.4 1395.1,963.8 1396.7,946.9 1398.3,961.5 1399.9,956.0 1401.5,974.2 1403.1,953.3 1404.7,956.4 1406.3,954.2 1407.9,969.6 1409.5,957.2 1411.1,955.7 1412.7,957.2 1414.3,964.5 1415.9,956.3 1417.5,961.7 1419.1,956.0 1420.7,961.9 1422.3,952.7 1423.9,959.1 1425.5,941.0 1427.1,962.4 1428.8,945.8 1430.4,961.9 1432.0,945.4 1433.6,954.8 1435.2,950.2 1436.8,954.7 1438.4,943.5 1440.0,958.6 1441.6,949.3 1443.2,958.8 1444.8,943.7 1446.4,954.5 1448.0,941.9 1449.6,963.2 1451.2,945.1 1452.8,951.0 1454.4,953.9 1456.0,952.4 1457.6,948.6 1459.2,958.6 1460.8,959.6 1462.4,956.1 1464.0,947.9 1465.6,965.5 1467.2,943.8 1468.9,964.3 1470.5,957.6 1472.1,961.4 1473.7,945.7 1475.3,963.8 1476.9,949.2 1478.5,954.8 1480.1,952.8 1481.7,958.4 1483.3,949.4 1484.9,951.4 1486.5,948.5 1488.1,968.8 1489.7,957.8 1491.3,957.5 1492.9,948.1 1494.5,954.7 1496.1,943.0 1497.7,962.9 1499.3,937.7 1500.9,953.2 1502.5,950.4 1504.1,933.6 1505.7,943.6 1507.3,966.6 1508.9,951.0 1510.6,959.4 1512.2,954.3 1513.8,960.1 1515.4,963.7 1517.0,965.1 1518.6,956.7 1520.2,950.5 1521.8,941.9 1523.4,957.3 1525.0,958.3 1526.6,959.2 1528.2,947.8 1529.8,964.2 1531.4,955.4 1533.0,957.9 1534.6,950.9 1536.2,963.0 1537.8,942.1 1539.4,962.1 1541.0,954.2 1542.6,969.4 1544.2,954.3 1545.8,981.3 1547.4,955.4 1549.0,954.9 1550.6,955.1 1552.3,972.8 1553.9,958.0 1555.5,992.3 1557.1,954.8 1558.7,959.9 1560.3,954.5 1561.9,938.6 1563.5,955.4 1565.1,960.0 1566.7,950.5 1568.3,969.3 1569.9,950.6 1571.5,962.1 1573.1,952.8 1574.7,964.9 1576.3,960.3 1577.9,951.9"/>
<polyline stroke="#d62728" points="296.4,794.8 298.0,876.0 299.6,817.4 301.2,873.3 302.8,835.4 304.4,880.5 306.0,865.8 307.6,871.9 309.2,856.3 310.8,889.2 312.4,859.0 314.0,893.0 315.6,870.6 317.3,884.9 318.9,883.1 320.5,903.1 322.1,881.2 323.7,892.4 325.3,888.5 326.9,900.5 328.5,894.6 330.1,905.9 331.7,883.9 333.3,909.9 334.9,892.5 336.5,904.4 338.1,885.3 339.7,915.6 341.3,885.8 342.9,928.6 344.5,908.9 346.1,908.5 347.7,897.8 349.3,929.6 350.9,908.0 352.5,916.7 354.1,902.6 355.7,913.7 357.3,902.0 359.0,932.4 360.6,917.2 362.2,919.4 363.8,918.5 365.4,924.0 367.0,909.5 368.6,914.6 370.2,904.3 371.8,920.5 373.4,916.7 375.0,921.5 376.6,911.9 378.2,939.2 379.8,919.7 381.4,931.9 383.0,917.0 384.6,929.5 386.2,901.7 387.8,927.9 389.4,909.4 391.0,925.7 392.6,908.1 394.2,927.6 395.8,915.7 397.4,934.8 399.0,925.7 400.7,946.4 402.3,927.2 403.9,943.1 405.5,917.8 407.1,928.4 408.7,931.1 410.3,935.2 411.9,923.2 413.5,937.2 415.1,926.0 416.7,941.6 418.3,936.9 419.9,937.5 421.5,929.4 423.1,943.4 424.7,941.8 426.3,942.9 427.9,940.5 429.5,947.0 431.1,938.4 432.7,932.3 434.3,940.9 435.9,956.2 437.5,929.6 439.1,945.4 440.8,935.8 442.4,945.6 444.0,936.7 445.6,945.0 447.2,932.9 448.8,946.7 450.4,943.6 452.0,948.9 453.6,943.5 455.2,949.8 456.8,938.5 458.4,955.1 460.0,941.6 461.6,954.2 463.2,937.2 464.8,957.6 466.4,944.4 468.0,950.0 469.6,940.9 471.2,948.6 472.8,930.7 474.4,948.0 476.0,950.7 477.6,951.0 479.2,950.1 480.8,949.1 482.5,940.5 484.1,959.8 485.7,940.7 487.3,955.2 488.9,944.8 490.5,945.8 492.1,946.3 493.7,958.7 495.3,941.9 496.9,951.2 498.5,939.5 500.1,950.2 501.7,949.7 503.3,963.8 504.9,947.6 506.5,956.9 508.1,952.8 509.7,963.2 511.3,948.1 512.9,955.1 514.5,945.1 516.1,954.3 517.7,952.3 519.3,984.2 520.9,948.8 522.5,962.2 524.2,952.5 525.8,965.5 527.4,951.7 529.0,961.2 530.6,953.2 532.2,960.1 533.8,946.4 535.4,951.5 537.0,953.1 538.6,960.1 540.2,955.3 541.8,954.6 543.4,945.5 545.0,963.3 546.6,951.0 548.2,962.2 549.8,956.0 551.4,963.0 553.0,957.8 554.6,965.6 556.2,960.4 557.8,961.0 559.4,951.3 561.0,963.4 562.6,957.2 564.3,971.3 565.9,956.3 567.5,968.9 569.1,955.9 570.7,964.9 572.3,948.1 573.9,961.3 575.5,951.0 577.1,964.3 578.7,950.0 580.3,963.5 581.9,956.6 583.5,967.0 585.1,955.3 586.7,959.5 588.3,957.0 589.9,963.6 591.5,958.4 593.1,964.9 594.7,959.3 596.3,969.6 597.9,950.9 599.5,970.7 601.1,948.1 602.7,965.6 604.3,954.1 606.0,962.9 607.6,956.7 609.2,963.2 610.8,960.1 612.4,966.5 614.0,961.1 615.6,971.9 617.2,965.4 618.8,971.8 620.4,956.0 622.0,962.3 623.6,960.0 625.2,973.2 626.8,965.5 628.4,966.2 630.0,961.2 631.6,964.5 633.2,951.1 634.8,968.4 636.4,961.2 638.0,972.6 639.6,960.6 641.2,966.9 642.8,958.2 644.4,973.8 646.1,945.7 647.7,970.4 649.3,962.7 650.9,968.7 652.5,966.0 654.1,969.8 655.7,963.2 657.3,962.8 658.9,953.4 660.5,965.5 662.1,964.6 663.7,964.9 665.3,963.7 666.9,968.0 668.5,952.8 670.1,968.2 671.7,965.5 673.3,971.3 674.9,963.9 676.5,966.1 678.1,962.9 679.7,963.4 681.3,956.0 682.9,967.3 684.5,962.4 686.1,964.4 687.8,954.2 689.4,973.0 691.0,968.1 692.6,968.9 694.2,965.2 695.8,969.1 697.4,962.3 699.0,965.2 700.6,959.7 702.2,967.9 703.8,966.5 705.4,966.5 707.0,965.5 708.6,969.6 710.2,961.4 711.8,971.2 713.4,963.4 715.0,967.3 716.6,958.4 718.2,970.3 719.8,960.6 721.4,969.1 723.0,956.6 724.6,971.4 726.2,964.8 727.8,961.9 729.5,957.5 731.1,973.4 732.7,957.4 734.3,963.3 735.9,956.9 737.5,971.5 739.1,957.5 740.7,971.0 742.3,960.0 743.9,970.0 745.5,969.6 747.1,971.3 748.7,963.7 750.3,964.0 751.9,968.0 753.5,973.2 755.1,958.4 756.7,978.1 758.3,972.2 759.9,961.7 761.5,962.9 763.1,966.9 764.7,951.3 766.3,973.6 767.9,955.2 769.6,970.8 771.2,963.6 772.8,969.1 774.4,961.6 776.0,963.6 777.6,961.4 779.2,972.7 780.8,964.5 782.4,962.3 784.0,961.3 785.6,971.1 787.2,960.2 788.8,970.1 790.4,960.0 792.0,974.8 793.6,966.1 795.2,969.0 796.8,961.9 798.4,978.4 800.0,968.9 801.6,975.5 803.2,965.4 804.8,974.0 806.4,958.1 808.0,972.2 809.6,964.3 811.3,964.3 812.9,967.3 814.5,969.8 816.1,969.1 817.7,972.3 819.3,970.4 820.9,971.0 822.5,966.6 824.1,973.5 825.7,959.4 827.3,966.7 828.9,969.8 830.5,969.3 832.1,967.0 833.7,967.6 835.3,961.1 836.9,973.9 838.5,959.7 840.1,962.7 841.7,970.6 843.3,973.7 844.9,966.8 846.5,968.0 848.1,966.8 849.7,970.6 851.3,958.9 853.0,972.7 854.6,964.6 856.2,972.9 857.8,961.0 859.4,974.0 861.0,964.4 862.6,967.6 864.2,959.7 865.8,973.8 867.4,966.5 869.0,971.2 870.6,964.8 872.2,977.4 873.8,970.9 875.4,971.3 877.0,966.4 878.6,977.2 880.2,966.8 881.8,970.3 883.4,967.8 885.0,974.0 886.6,968.6 888.2,964.4 889.8,965.7 891.4,972.8 893.1,959.3 894.7,965.6 896.3,963.5 897.9,965.8 899.5,963.0 901.1,969.4 902.7,963.6 904.3,971.1 905.9,968.4 907.5,971.3 909.1,962.9 910.7,978.7 912.3,967.2 913.9,976.8 915.5,965.8 917.1,982.4 918.7,968.7 920.3,974.1 921.9,966.7 923.5,982.6 925.1,963.3 926.7,966.8 928.3,961.4 929.9,969.1 931.5,959.4 933.1,969.6 934.8,963.2 936.4,971.6 938.0,957.6 939.6,966.1 941.2,957.7 942.8,969.2 944.4,964.3 946.0,974.1 947.6,964.7 949.2,970.5 950.8,984.2 952.4,981.1 954.0,966.0 955.6,977.9 957.2,964.7 958.8,970.1 960.4,963.7 962.0,978.4 963.6,984.2 965.2,971.5 966.8,967.9 968.4,974.2 970.0,957.1 971.6,966.7 973.2,963.2 974.8,974.5 976.5,957.2 978.1,975.4 979.7,967.5 981.3,994.1 982.9,971.0 984.5,984.3 986.1,965.1 987.7,979.7 989.3,971.7 990.9,974.3 992.5,966.5 994.1,963.0 995.7,969.1 997.3,970.3 998.9,967.5 1000.5,971.3 1002.1,962.7 1003.7,969.8 1005.3,966.1 1006.9,990.5 1008.5,961.6 1010.1,967.8 1011.7,962.8 1013.3,968.5 1014.9,969.9 1016.6,972.8 1018.2,965.2 1019.8,974.8 1021.4,957.6 1023.0,971.6 1024.6,967.4 1026.2,967.3 1027.8,967.2 1029.4,971.3 1031.0,972.6 1032.6,974.0 1034.2,969.0 1035.8,977.6 1037.4,963.3 1039.0,972.8 1040.6,965.6 1042.2,974.5 1043.8,968.4 1045.4,976.8 1047.0,961.2 1048.6,979.7 1050.2,970.8 1051.8,978.7 1053.4,968.5 1055.0,977.0 1056.6,965.2 1058.3,979.3 1059.9,967.6 1061.5,971.3 1063.1,964.3 1064.7,975.0 1066.3,972.9 1067.9,977.5 1069.5,963.9 1071.1,969.2 1072.7,968.8 1074.3,969.3 1075.9,957.0 1077.5,972.6 1079.1,964.6 1080.7,976.8 1082.3,963.8 1083.9,976.9 1085.5,967.8 1087.1,979.6 1088.7,966.7 1090.3,978.0 1091.9,967.4 1093.5,980.2 1095.1,968.7 1096.7,982.2 1098.3,971.4 1100.0,977.6 1101.6,965.3 1103.2,974.9 1104.8,966.6 1106.4,979.7 1108.0,969.5 1109.6,972.8 1111.2,969.4 1112.8,974.3 1114.4,966.5 1116.0,968.7 1117.6,964.1 1119.2,973.3 1120.8,964.0 1122.4,975.4 1124.0,956.7 1125.6,972.5 1127.2,972.5 1128.8,970.5 1130.4,963.5 1132.0,979.9 1133.6,965.4 1135.2,972.9 1136.8,965.3 1138.4,976.6 1140.1,968.9 1141.7,972.6 1143.3,974.9 1144.9,983.3 1146.5,968.8 1148.1,987.1 1149.7,975.4 1151.3,975.9 1152.9,970.1 1154.5,974.1 1156.1,972.0 1157.7,976.0 1159.3,969.6 1160.9,985.6 1162.5,971.8 1164.1,986.3 1165.7,970.6 1167.3,982.7 1168.9,966.3 1170.5,977.6 1172.1,973.3 1173.7,988.2 1175.3,970.9 1176.9,985.8 1178.5,972.7 1180.1,977.0 1181.8,966.7 1183.4,984.2 1185.0,964.8 1186.6,985.5 1188.2,968.3 1189.8,979.5 1191.4,978.4 1193.0,971.0 1194.6,974.8 1196.2,979.4 1197.8,974.0 1199.4,974.2 1201.0,976.5 1202.6,976.6 1204.2,965.0 1205.8,969.0 1207.4,968.6 1209.0,985.5 1210.6,996.8 1212.2,990.5 1213.8,965.2 1215.4,970.8 1217.0,967.1 1218.6,983.6 1220.2,972.6 1221.9,982.6 1223.5,965.7 1225.1,983.7 1226.7,979.7 1228.3,985.3 1229.9,978.2 1231.5,974.5 1233.1,968.9 1234.7,982.0 1236.3,964.4 1237.9,975.3 1239.5,966.2 1241.1,977.7 1242.7,958.7 1244.3,974.3 1245.9,973.5 1247.5,981.9 1249.1,957.4 1250.7,971.5 1252.3,968.2 1253.9,984.7 1255.5,974.4 1257.1,981.1 1258.7,965.9 1260.3,977.2 1261.9,975.1 1263.6,971.3 1265.2,961.2 1266.8,974.0 1268.4,975.5 1270.0,986.4 1271.6,966.2 1273.2,978.7 1274.8,939.6 1276.4,987.3 1278.0,973.2 1279.6,982.5 1281.2,956.6 1282.8,983.5 1284.4,978.3 1286.0,980.1 1287.6,974.2 1289.2,980.4 1290.8,969.9 1292.4,983.6 1294.0,969.3 1295.6,976.3 1297.2,973.4 1298.8,979.7 1300.4,967.0 1302.0,980.5 1303.6,966.9 1305.3,976.9 1306.9,961.3 1308.5,980.9 1310.1,964.8 1311.7,974.2 1313.3,970.6 1314.9,989.9 1316.5,956.6 1318.1,983.7 1319.7,963.6 1321.3,974.8 1322.9,967.3 1324.5,977.8 1326.1,967.3 1327.7,981.4 1329.3,978.5 1330.9,993.4 1332.5,967.8 1334.1,985.3 1335.7,967.5 1337.3,982.8 1338.9,963.2 1340.5,984.2 1342.1,981.5 1343.7,984.5 1345.4,981.3 1347.0,987.0 1348.6,970.3 1350.2,987.7 1351.8,967.7 1353.4,983.8 1355.0,958.4 1356.6,981.4 1358.2,967.6 1359.8,976.6 1361.4,964.6 1363.0,984.4 1364.6,969.0 1366.2,978.5 1367.8,964.1 1369.4,976.9 1371.0,957.3 1372.6,976.6 1374.2,965.3 1375.8,970.7 1377.4,974.8 1379.0,984.9 1380.6,957.7 1382.2,978.5 1383.8,957.7 1385.4,976.6 1387.1,961.7 1388.7,979.5 1390.3,965.9 1391.9,985.4 1393.5,970.6 1395.1,980.6 1396.7,980.0 1398.3,981.6 1399.9,971.5 1401.5,995.6 1403.1,988.4 1404.7,961.7 1406.3,979.2 1407.9,998.4 1409.5,978.9 1411.1,977.1 1412.7,963.5 1414.3,973.9 1415.9,964.6 1417.5,967.7 1419.1,958.8 1420.7,980.8 1422.3,970.9 1423.9,982.8 1425.5,969.6 1427.1,986.6 1428.8,975.3 1430.4,976.8 1432.0,978.6 1433.6,982.0 1435.2,979.4 1436.8,981.4 1438.4,968.0 1440.0,994.6 1441.6,974.1 1443.2,974.1 1444.8,981.1 1446.4,984.1 1448.0,964.9 1449.6,990.6 1451.2,973.1 1452.8,981.1 1454.4,970.6 1456.0,978.0 1457.6,966.7 1459.2,982.9 1460.8,961.7 1462.4,979.0 1464.0,974.3 1465.6,985.8 1467.2,964.2 1468.9,976.4 1470.5,968.7 1472.1,981.2 1473.7,983.5 1475.3,976.2 1476.9,978.4 1478.5,980.3 1480.1,974.6 1481.7,980.7 1483.3,984.5 1484.9,967.7 1486.5,971.6 1488.1,984.3 1489.7,975.6 1491.3,994.9 1492.9,976.6 1494.5,982.6 1496.1,973.9 1497.7,978.5 1499.3,984.0 1500.9,981.3 1502.5,973.0 1504.1,981.1 1505.7,977.4 1507.3,992.0 1508.9,977.5 1510.6,987.9 1512.2,970.9 1513.8,990.1 1515.4,967.5 1517.0,982.6 1518.6,980.0 1520.2,985.1 1521.8,978.4 1523.4,986.9 1525.0,983.9 1526.6,979.9 1528.2,971.6 1529.8,978.5 1531.4,966.8 1533.0,982.0 1534.6,967.4 1536.2,984.8 1537.8,969.5 1539.4,984.2 1541.0,970.8 1542.6,985.7 1544.2,969.4 1545.8,992.4 1547.4,972.3 1549.0,980.2 1550.6,970.9 1552.3,990.9 1553.9,976.5 1555.5,981.6 1557.1,976.2 1558.7,983.5 1560.3,975.1 1561.9,982.9 1563.5,981.0 1565.1,975.8 1566.7,971.5 1568.3,980.2 1569.9,957.6 1571.5,977.1 1573.1,972.1 1574.7,990.6 1576.3,954.5 1577.9,966.9"/>
<polyline stroke="#9467bd" points="296.4,757.8 298.0,903.0 299.6,784.0 301.2,889.5 302.8,811.0 304.4,894.0 306.0,834.5 307.6,895.8 309.2,865.2 310.8,903.0 312.4,875.1 314.0,895.4 315.6,897.1 317.3,914.0 318.9,908.3 320.5,930.0 322.1,882.7 323.7,901.3 325.3,917.3 326.9,912.9 328.5,915.1 330.1,934.9 331.7,920.8 333.3,930.9 334.9,902.6 336.5,914.3 338.1,891.7 339.7,926.1 341.3,912.6 342.9,926.5 344.5,902.5 346.1,925.4 347.7,911.9 349.3,936.7 350.9,921.2 352.5,928.9 354.1,909.5 355.7,913.0 357.3,910.5 359.0,911.0 360.6,911.4 362.2,931.8 363.8,911.6 365.4,928.1 367.0,907.5 368.6,924.6 370.2,909.2 371.8,931.8 373.4,919.9 375.0,897.6 376.6,913.7 378.2,925.8 379.8,918.0 381.4,930.8 383.0,915.9 384.6,927.0 386.2,922.0 387.8,920.8 389.4,917.0 391.0,935.0 392.6,923.4 394.2,926.1 395.8,918.9 397.4,941.1 399.0,920.9 400.7,937.7 402.3,919.0 403.9,942.2 405.5,949.3 407.1,935.2 408.7,935.0 410.3,930.6 411.9,920.7 413.5,939.8 415.1,931.9 416.7,922.9 418.3,896.7 419.9,928.3 421.5,936.5 423.1,941.3 424.7,925.9 426.3,943.8 427.9,927.5 429.5,940.4 431.1,926.6 432.7,940.2 434.3,937.4 435.9,945.9 437.5,935.3 439.1,946.0 440.8,924.8 442.4,947.3 444.0,927.4 445.6,950.8 447.2,939.7 448.8,949.6 450.4,936.9 452.0,956.7 453.6,954.7 455.2,942.0 456.8,928.4 458.4,953.5 460.0,943.6 461.6,943.5 463.2,937.1 464.8,942.6 466.4,936.8 468.0,930.6 469.6,935.0 471.2,939.1 472.8,930.8 474.4,949.2 476.0,937.8 477.6,946.6 479.2,949.6 480.8,951.2 482.5,942.6 484.1,944.2 485.7,945.6 487.3,949.2 488.9,938.1 490.5,951.9 492.1,944.3 493.7,958.8 495.3,951.5 496.9,954.0 498.5,945.1 500.1,960.3 501.7,949.7 503.3,949.8 504.9,949.5 506.5,954.7 508.1,948.8 509.7,956.9 511.3,934.1 512.9,942.4 514.5,936.2 516.1,950.1 517.7,938.5 519.3,943.7 520.9,935.1 522.5,945.9 524.2,937.0 525.8,956.8 527.4,950.9 529.0,948.4 530.6,942.5 532.2,952.4 533.8,950.4 535.4,960.7 537.0,939.3 538.6,953.3 540.2,946.3 541.8,957.1 543.4,946.4 545.0,952.9 546.6,940.1 548.2,959.8 549.8,949.1 551.4,948.3 553.0,951.7 554.6,951.8 556.2,947.9 557.8,950.3 559.4,945.4 561.0,954.8 562.6,951.6 564.3,952.4 565.9,951.0 567.5,959.1 569.1,950.0 570.7,960.6 572.3,944.7 573.9,959.4 575.5,946.8 577.1,956.1 578.7,951.0 580.3,968.6 581.9,947.3 583.5,957.9 585.1,946.9 586.7,961.4 588.3,951.0 589.9,958.8 591.5,952.9 593.1,958.0 594.7,946.8 596.3,960.2 597.9,950.6 599.5,956.9 601.1,944.9 602.7,950.4 604.3,945.7 606.0,955.9 607.6,943.3 609.2,950.5 610.8,947.9 612.4,955.7 614.0,946.2 615.6,952.4 617.2,948.8 618.8,956.3 620.4,950.6 622.0,958.4 623.6,948.7 625.2,952.8 626.8,927.4 628.4,951.3 630.0,949.7 631.6,948.4 633.2,951.6 634.8,960.4 636.4,950.0 638.0,954.2 639.6,952.6 641.2,956.2 642.8,949.9 644.4,950.7 646.1,952.6 647.7,959.3 649.3,950.2 650.9,958.9 652.5,948.3 654.1,954.5 655.7,952.2 657.3,956.7 658.9,948.5 660.5,956.7 662.1,940.9 663.7,953.0 665.3,944.7 666.9,959.5 668.5,948.9 670.1,951.0 671.7,946.2 673.3,955.0 674.9,956.5 676.5,956.8 678.1,956.3 679.7,961.1 681.3,950.9 682.9,955.2 684.5,945.4 686.1,957.4 687.8,945.7 689.4,954.9 691.0,950.4 692.6,957.1 694.2,948.7 695.8,952.3 697.4,949.9 699.0,954.7 700.6,947.7 702.2,957.5 703.8,947.7 705.4,956.8 707.0,944.1 708.6,948.7 710.2,950.5 711.8,954.9 713.4,948.4 715.0,957.8 716.6,949.1 718.2,958.3 719.8,951.5 721.4,955.0 723.0,948.3 724.6,951.6 726.2,946.7 727.8,954.4 729.5,952.2 731.1,950.6 732.7,953.2 734.3,955.2 735.9,943.2 737.5,957.7 739.1,947.9 740.7,960.4 742.3,944.3 743.9,962.8 745.5,949.2 747.1,960.5 748.7,951.4 750.3,954.0 751.9,958.7 753.5,955.8 755.1,956.5 756.7,957.4 758.3,959.4 759.9,950.8 761.5,954.2 763.1,959.6 764.7,955.5 766.3,961.5 767.9,947.3 769.6,955.7 771.2,948.8 772.8,960.5 774.4,958.1 776.0,962.3 777.6,954.3 779.2,951.6 780.8,953.3 782.4,971.7 784.0,955.6 785.6,958.5 787.2,944.8 788.8,966.4 790.4,952.4 792.0,949.7 793.6,949.9 795.2,957.3 796.8,950.2 798.4,955.6 800.0,948.1 801.6,963.0 803.2,946.6 804.8,961.2 806.4,960.4 808.0,962.1 809.6,955.0 811.3,964.3 812.9,958.5 814.5,960.7 816.1,966.7 817.7,963.6 819.3,953.3 820.9,961.7 822.5,956.9 824.1,965.6 825.7,950.1 827.3,964.7 828.9,950.5 830.5,952.1 832.1,954.2 833.7,962.6 835.3,949.9 836.9,960.4 838.5,950.3 840.1,957.6 841.7,947.5 843.3,960.0 844.9,951.6 846.5,960.2 848.1,948.9 849.7,959.6 851.3,958.3 853.0,957.4 854.6,951.4 856.2,955.5 857.8,954.5 859.4,955.5 861.0,943.7 862.6,958.7 864.2,955.2 865.8,955.8 867.4,948.2 869.0,963.3 870.6,952.9 872.2,960.6 873.8,951.1 875.4,964.3 877.0,955.2 878.6,957.8 880.2,954.5 881.8,953.0 883.4,956.2 885.0,966.7 886.6,955.2 888.2,958.8 889.8,955.7 891.4,964.0 893.1,946.0 894.7,964.4 896.3,950.6 897.9,960.7 899.5,960.9 901.1,962.2 902.7,960.0 904.3,966.4 905.9,953.2 907.5,956.4 909.1,955.7 910.7,964.9 912.3,950.1 913.9,964.4 915.5,954.5 917.1,965.0 918.7,961.4 920.3,969.2 921.9,952.1 923.5,968.0 925.1,953.5 926.7,959.8 928.3,959.3 929.9,968.5 931.5,951.6 933.1,968.9 934.8,959.1 936.4,965.1 938.0,968.6 939.6,968.9 941.2,965.0 942.8,972.4 944.4,964.5 946.0,970.0 947.6,966.9 949.2,970.9 950.8,960.2 952.4,973.2 954.0,962.6 955.6,973.1 957.2,969.1 958.8,976.5 960.4,964.2 962.0,975.7 963.6,961.0 965.2,971.1 966.8,961.1 968.4,975.7 970.0,957.3 971.6,974.2 973.2,964.2 974.8,967.8 976.5,969.6 978.1,977.2 979.7,969.3 981.3,973.7 982.9,962.5 984.5,976.6 986.1,972.6 987.7,975.7 989.3,967.6 990.9,975.2 992.5,967.1 994.1,967.4 995.7,972.8 997.3,973.1 998.9,971.3 1000.5,973.8 1002.1,966.9 1003.7,977.1 1005.3,969.8 1006.9,969.3 1008.5,965.0 1010.1,969.9 1011.7,972.0 1013.3,976.5 1014.9,971.7 1016.6,972.2 1018.2,964.7 1019.8,980.5 1021.4,969.7 1023.0,977.8 1024.6,973.5 1026.2,979.6 1027.8,973.7 1029.4,977.7 1031.0,975.2 1032.6,977.1 1034.2,973.8 1035.8,964.7 1037.4,970.3 1039.0,983.0 1040.6,973.1 1042.2,978.1 1043.8,975.7 1045.4,986.5 1047.0,975.3 1048.6,983.8 1050.2,978.5 1051.8,989.9 1053.4,975.8 1055.0,984.5 1056.6,973.4 1058.3,982.0 1059.9,981.1 1061.5,980.0 1063.1,977.0 1064.7,984.4 1066.3,976.8 1067.9,981.9 1069.5,977.9 1071.1,983.1 1072.7,980.2 1074.3,985.6 1075.9,981.7 1077.5,984.7 1079.1,975.3 1080.7,985.1 1082.3,978.6 1083.9,988.9 1085.5,980.5 1087.1,981.0 1088.7,972.8 1090.3,986.7 1091.9,983.3 1093.5,984.6 1095.1,979.0 1096.7,985.4 1098.3,979.4 1100.0,987.4 1101.6,982.3 1103.2,987.2 1104.8,983.0 1106.4,988.7 1108.0,981.7 1109.6,983.6 1111.2,983.9 1112.8,987.2 1114.4,983.1 1116.0,985.1 1117.6,982.0 1119.2,993.0 1120.8,987.3 1122.4,996.0 1124.0,986.8 1125.6,999.4 1127.2,988.7 1128.8,999.2 1130.4,991.8 1132.0,997.6 1133.6,994.7 1135.2,998.3 1136.8,995.0 1138.4,1002.9 1140.1,993.8 1141.7,1001.2 1143.3,998.4 1144.9,1000.8 1146.5,998.8 1148.1,1002.2 1149.7,998.1 1151.3,1003.1 1152.9,999.0 1154.5,1001.2 1156.1,1002.6 1157.7,1007.1 1159.3,999.9 1160.9,1002.4 1162.5,1002.6 1164.1,1006.1 1165.7,1004.5 1167.3,1010.4 1168.9,1002.6 1170.5,1011.9 1172.1,1007.2 1173.7,1008.1 1175.3,1005.6 1176.9,1000.8 1178.5,1010.5 1180.1,1013.7 1181.8,1008.7 1183.4,1013.8 1185.0,1011.5 1186.6,1015.4 1188.2,1012.6 1189.8,1017.0 1191.4,1013.8 1193.0,1015.3 1194.6,1013.3 1196.2,1017.4 1197.8,1016.1 1199.4,1020.3 1201.0,1012.3 1202.6,1019.0 1204.2,1015.6 1205.8,1016.4 1207.4,1018.1 1209.0,1018.9 1210.6,1018.6 1212.2,1022.3 1213.8,1018.8 1215.4,1032.6 1217.0,1021.7 1218.6,1027.8 1220.2,1022.9 1221.9,1026.1 1223.5,1025.0 1225.1,1030.0 1226.7,1023.9 1228.3,1028.7 1229.9,1023.3 1231.5,1028.0 1233.1,1026.2 1234.7,1032.6 1236.3,1027.8 1237.9,1030.9 1239.5,1029.8 1241.1,1031.0 1242.7,1029.9 1244.3,1032.0 1245.9,1032.0 1247.5,1034.7 1249.1,1031.5 1250.7,1032.2 1252.3,1031.6 1253.9,1033.6 1255.5,1031.0 1257.1,1037.7 1258.7,1033.5 1260.3,1035.0 1261.9,1031.0 1263.6,1035.9 1265.2,1035.0 1266.8,1036.9 1268.4,1032.2 1270.0,1035.6 1271.6,1033.4 1273.2,1034.7 1274.8,1034.4 1276.4,1034.7 1278.0,1035.0 1279.6,1035.1 1281.2,1034.9 1282.8,1035.2 1284.4,1034.5 1286.0,1037.0 1287.6,1036.2 1289.2,1037.1 1290.8,1036.9 1292.4,1037.7 1294.0,1036.9 1295.6,1037.8 1297.2,1037.8 1298.8,1038.2 1300.4,1038.3 1302.0,1038.3 1303.6,1038.0 1305.3,1038.4 1306.9,1038.1 1308.5,1038.3 1310.1,1038.1 1311.7,1038.2 1313.3,1038.0 1314.9,1038.5 1316.5,1038.2 1318.1,1038.3 1319.7,1037.9 1321.3,1038.2 1322.9,1038.1 1324.5,1038.4 1326.1,1037.9 1327.7,1038.5 1329.3,1038.0 1330.9,1038.4 1332.5,1038.3 1334.1,1038.3 1335.7,1038.1 1337.3,1038.3 1338.9,1038.3 1340.5,1038.4 1342.1,1038.1 1343.7,1038.5 1345.4,1038.1 1347.0,1038.4 1348.6,1038.2 1350.2,1038.6 1351.8,1038.3 1353.4,1038.4 1355.0,1038.1 1356.6,1038.2 1358.2,1038.0 1359.8,1038.6 1361.4,1038.2 1363.0,1038.7 1364.6,1038.0 1366.2,1038.3 1367.8,1038.0 1369.4,1038.5 1371.0,1038.2 1372.6,1038.4 1374.2,1038.0 1375.8,1038.3 1377.4,1038.1 1379.0,1038.5 1380.6,1038.2 1382.2,1038.2 1383.8,1038.3 1385.4,1038.6 1387.1,1037.9 1388.7,1038.3 1390.3,1038.0 1391.9,1038.3 1393.5,1038.1 1395.1,1038.4 1396.7,1037.9 1398.3,1038.5 1399.9,1037.9 1401.5,1038.4 1403.1,1037.8 1404.7,1038.1 1406.3,1038.1 1407.9,1038.1 1409.5,1038.1 1411.1,1038.3 1412.7,1037.8 1414.3,1038.5 1415.9,1038.1 1417.5,1038.4 1419.1,1038.4 1420.7,1038.4 1422.3,1038.5 1423.9,1038.6 1425.5,1038.1 1427.1,1038.4 1428.8,1038.2 1430.4,1038.4 1432.0,1038.1 1433.6,1038.3 1435.2,1038.3 1436.8,1038.5 1438.4,1038.2 1440.0,1038.3 1441.6,1037.9 1443.2,1038.3 1444.8,1038.3 1446.4,1038.5 1448.0,1038.1 1449.6,1038.5 1451.2,1038.1 1452.8,1038.5 1454.4,1038.3 1456.0,1038.2 1457.6,1038.0 1459.2,1038.3 1460.8,1037.9 1462.4,1038.3 1464.0,1038.1 1465.6,1038.3 1467.2,1038.1 1468.9,1038.4 1470.5,1038.2 1472.1,1038.3 1473.7,1038.0 1475.3,1038.6 1476.9,1038.0 1478.5,1038.4 1480.1,1038.3 1481.7,1038.4 1483.3,1038.0 1484.9,1037.8 1486.5,1038.1 1488.1,1038.4 1489.7,1038.4 1491.3,1038.6 1492.9,1038.0 1494.5,1038.4 1496.1,1037.9 1497.7,1038.3 1499.3,1038.0 1500.9,1038.7 1502.5,1038.0 1504.1,1038.2 1505.7,1038.2 1507.3,1038.4 1508.9,1038.1 1510.6,1038.5 1512.2,1038.1 1513.8,1038.4 1515.4,1038.2 1517.0,1038.5 1518.6,1038.2 1520.2,1038.7 1521.8,1038.4 1523.4,1038.2 1525.0,1038.3 1526.6,1038.4 1528.2,1038.2 1529.8,1038.5 1531.4,1038.2 1533.0,1038.7 1534.6,1038.3 1536.2,1038.2 1537.8,1038.3 1539.4,1038.6 1541.0,1038.1 1542.6,1038.6 1544.2,1038.2 1545.8,1038.5 1547.4,1038.1 1549.0,1038.3 1550.6,1038.2 1552.3,1038.3 1553.9,1038.3 1555.5,1038.5 1557.1,1038.2 1558.7,1038.6 1560.3,1038.4 1561.9,1038.4 1563.5,1038.3 1565.1,1038.4 1566.7,1038.2 1568.3,1038.1 1569.9,1038.2 1571.5,1038.6 1573.1,1038.1 1574.7,1038.5 1576.3,1038.1 1577.9,1038.6"/>
<polyline stroke="#8c564b" points="296.4,908.4 298.0,916.6 299.6,915.7 301.2,927.8 302.8,931.8 304.4,926.3 306.0,924.9 307.6,939.7 309.2,927.3 310.8,939.4 312.4,923.1 314.0,936.2 315.6,938.5 317.3,939.1 318.9,937.7 320.5,942.3 322.1,940.4 323.7,947.0 325.3,939.4 326.9,942.5 328.5,939.9 330.1,944.1 331.7,949.5 333.3,951.8 334.9,942.7 336.5,954.7 338.1,941.5 339.7,947.0 341.3,942.9 342.9,962.1 344.5,950.1 346.1,957.4 347.7,945.6 349.3,945.7 350.9,951.8 352.5,960.6 354.1,960.7 355.7,960.3 357.3,954.2 359.0,955.7 360.6,950.0 362.2,959.4 363.8,954.4 365.4,955.5 367.0,954.6 368.6,955.2 370.2,940.9 371.8,963.1 373.4,958.1 375.0,961.8 376.6,953.8 378.2,957.5 379.8,954.0 381.4,958.1 383.0,955.6 384.6,950.9 386.2,950.7 387.8,963.6 389.4,954.3 391.0,959.7 392.6,955.4 394.2,963.7 395.8,956.7 397.4,959.1 399.0,956.1 400.7,963.9 402.3,954.0 403.9,969.3 405.5,963.7 407.1,961.6 408.7,955.0 410.3,961.1 411.9,953.4 413.5,956.7 415.1,960.7 416.7,965.7 418.3,956.1 419.9,970.4 421.5,960.3 423.1,966.4 424.7,958.9 426.3,959.7 427.9,969.6 429.5,963.8 431.1,962.7 432.7,961.7 434.3,960.7 435.9,969.9 437.5,954.4 439.1,968.2 440.8,960.2 442.4,970.9 444.0,964.4 445.6,971.6 447.2,952.2 448.8,968.4 450.4,964.4 452.0,961.0 453.6,961.8 455.2,968.1 456.8,967.1 458.4,968.4 460.0,961.4 461.6,971.3 463.2,971.4 464.8,970.1 466.4,963.1 468.0,972.0 469.6,971.0 471.2,974.4 472.8,969.5 474.4,966.5 476.0,967.4 477.6,980.0 479.2,965.4 480.8,973.7 482.5,956.9 484.1,975.9 485.7,973.1 487.3,974.3 488.9,966.0 490.5,975.7 492.1,967.3 493.7,975.6 495.3,973.9 496.9,977.5 498.5,967.4 500.1,978.7 501.7,973.2 503.3,976.7 504.9,972.5 506.5,977.8 508.1,968.2 509.7,981.3 511.3,973.0 512.9,971.5 514.5,973.4 516.1,967.9 517.7,973.1 519.3,985.9 520.9,969.5 522.5,980.1 524.2,989.5 525.8,977.2 527.4,979.0 529.0,988.5 530.6,977.0 532.2,983.6 533.8,974.5 535.4,984.8 537.0,980.3 538.6,983.0 540.2,971.8 541.8,986.0 543.4,971.4 545.0,980.8 546.6,974.9 548.2,979.6 549.8,975.1 551.4,987.7 553.0,976.0 554.6,986.7 556.2,978.8 557.8,984.7 559.4,980.0 561.0,981.0 562.6,976.4 564.3,987.4 565.9,979.4 567.5,986.2 569.1,982.4 570.7,978.6 572.3,974.4 573.9,992.3 575.5,983.5 577.1,993.6 578.7,992.4 580.3,993.6 581.9,978.8 583.5,987.8 585.1,978.7 586.7,991.4 588.3,977.3 589.9,992.8 591.5,988.9 593.1,988.2 594.7,980.6 596.3,994.8 597.9,987.4 599.5,984.0 601.1,982.4 602.7,978.3 604.3,980.5 606.0,995.4 607.6,982.7 609.2,993.6 610.8,991.0 612.4,1003.0 614.0,977.7 615.6,985.3 617.2,986.9 618.8,985.1 620.4,992.5 622.0,984.2 623.6,980.3 625.2,982.7 626.8,992.9 628.4,983.9 630.0,979.5 631.6,991.5 633.2,989.7 634.8,989.9 636.4,985.3 638.0,991.8 639.6,992.5 641.2,997.9 642.8,989.9 644.4,989.9 646.1,1005.8 647.7,989.4 649.3,985.1 650.9,997.4 652.5,991.9 654.1,997.0 655.7,989.4 657.3,986.6 658.9,985.4 660.5,993.6 662.1,986.6 663.7,988.8 665.3,981.9 666.9,996.3 668.5,993.9 670.1,995.5 671.7,983.4 673.3,985.4 674.9,989.1 676.5,988.6 678.1,992.1 679.7,993.5 681.3,988.5 682.9,999.2 684.5,988.8 686.1,993.0 687.8,989.0 689.4,996.5 691.0,992.1 692.6,1001.4 694.2,986.4 695.8,995.2 697.4,986.1 699.0,992.8 700.6,980.4 702.2,996.2 703.8,998.9 705.4,997.5 707.0,987.5 708.6,988.6 710.2,984.5 711.8,995.4 713.4,985.1 715.0,1002.0 716.6,992.7 718.2,1000.9 719.8,988.0 721.4,991.8 723.0,993.5 724.6,1000.7 726.2,992.9 727.8,1012.5 729.5,999.3 731.1,990.7 732.7,1001.2 734.3,994.3 735.9,989.6 737.5,994.1 739.1,997.7 740.7,993.1 742.3,995.8 743.9,997.8 745.5,994.1 747.1,995.5 748.7,993.2 750.3,1001.0 751.9,988.4 753.5,1001.4 755.1,998.1 756.7,995.1 758.3,991.7 759.9,995.6 761.5,991.0 763.1,1003.1 764.7,995.8 766.3,1005.6 767.9,995.0 769.6,1000.6 771.2,1000.0 772.8,1002.7 774.4,997.9 776.0,1000.9 777.6,998.2 779.2,996.8 780.8,1008.3 782.4,1003.0 784.0,1004.6 785.6,1002.1 787.2,998.1 788.8,1002.2 790.4,998.3 792.0,1004.8 793.6,1002.4 795.2,1001.8 796.8,999.5 798.4,1005.9 800.0,997.5 801.6,999.7 803.2,996.8 804.8,1003.4 806.4,997.8 808.0,1020.0 809.6,1000.0 811.3,994.5 812.9,1000.5 814.5,1001.1 816.1,1002.4 817.7,1007.4 819.3,1003.7 820.9,1004.2 822.5,1005.4 824.1,1001.4 825.7,1002.7 827.3,1005.5 828.9,996.8 830.5,1006.3 832.1,1002.9 833.7,995.9 835.3,1001.1 836.9,1006.3 838.5,1003.2 840.1,1001.8 841.7,997.9 843.3,1012.3 844.9,1001.6 846.5,1004.9 848.1,1001.2 849.7,1009.3 851.3,1001.0 853.0,1001.0 854.6,1000.8 856.2,1008.7 857.8,1001.8 859.4,1008.2 861.0,1000.9 862.6,1014.8 864.2,1001.4 865.8,1005.9 867.4,1000.1 869.0,1010.3 870.6,991.7 872.2,1011.7 873.8,1003.7 875.4,1005.5 877.0,999.2 878.6,1005.0 880.2,1011.0 881.8,1007.7 883.4,1004.8 885.0,1004.9 886.6,1000.9 888.2,1010.8 889.8,1007.7 891.4,1002.3 893.1,1008.1 894.7,1008.7 896.3,1008.1 897.9,1005.9 899.5,1004.0 901.1,1010.1 902.7,1010.2 904.3,1011.8 905.9,1005.2 907.5,1011.7 909.1,1015.3 910.7,1015.5 912.3,1010.9 913.9,1013.5 915.5,1004.9 917.1,1015.0 918.7,1007.0 920.3,1009.3 921.9,1012.9 923.5,1016.4 925.1,1014.3 926.7,1013.0 928.3,1008.1 929.9,1013.7 931.5,1012.1 933.1,1010.0 934.8,1013.1 936.4,1010.7 938.0,1010.3 939.6,1012.9 941.2,1006.4 942.8,1018.4 944.4,1013.7 946.0,1011.8 947.6,1008.5 949.2,1012.3 950.8,1012.7 952.4,1014.6 954.0,1008.7 955.6,1016.1 957.2,1009.3 958.8,1012.0 960.4,1010.6 962.0,1015.0 963.6,1006.9 965.2,1018.6 966.8,1008.4 968.4,1011.9 970.0,1014.2 971.6,1012.8 973.2,1007.8 974.8,1020.3 976.5,1015.3 978.1,1017.0 979.7,1008.6 981.3,1018.8 982.9,1011.3 984.5,1019.5 986.1,1014.1 987.7,1017.5 989.3,1014.1 990.9,1016.2 992.5,1014.0 994.1,1017.4 995.7,1013.4 997.3,1017.0 998.9,1013.3 1000.5,1014.4 1002.1,1016.1 1003.7,1016.1 1005.3,1008.1 1006.9,1016.1 1008.5,1013.1 1010.1,1019.7 1011.7,1015.6 1013.3,1014.0 1014.9,1014.4 1016.6,1016.7 1018.2,1012.1 1019.8,1019.1 1021.4,1012.3 1023.0,1015.7 1024.6,1013.6 1026.2,1019.4 1027.8,1013.1 1029.4,1022.8 1031.0,1014.5 1032.6,1021.8 1034.2,1017.9 1035.8,1017.8 1037.4,1020.2 1039.0,1019.8 1040.6,1024.6 1042.2,1019.1 1043.8,1016.5 1045.4,1015.1 1047.0,1019.5 1048.6,1019.2 1050.2,1018.0 1051.8,1018.5 1053.4,1015.1 1055.0,1016.5 1056.6,1013.5 1058.3,1022.5 1059.9,1015.0 1061.5,1023.1 1063.1,1017.4 1064.7,1022.9 1066.3,1016.7 1067.9,1019.3 1069.5,1019.0 1071.1,1022.5 1072.7,1022.0 1074.3,1021.7 1075.9,1018.9 1077.5,1020.5 1079.1,1022.5 1080.7,1019.1 1082.3,1021.5 1083.9,1021.9 1085.5,1017.2 1087.1,1020.2 1088.7,1020.5 1090.3,1025.6 1091.9,1016.9 1093.5,1021.9 1095.1,1022.7 1096.7,1021.2 1098.3,1020.6 1100.0,1022.7 1101.6,1020.0 1103.2,1031.2 1104.8,1016.5 1106.4,1023.2 1108.0,1024.9 1109.6,1024.1 1111.2,1025.7 1112.8,1022.6 1114.4,1022.8 1116.0,1023.3 1117.6,1019.7 1119.2,1023.0 1120.8,1017.4 1122.4,1023.2 1124.0,1020.0 1125.6,1023.2 1127.2,1021.2 1128.8,1025.0 1130.4,1018.8 1132.0,1022.5 1133.6,1017.0 1135.2,1025.7 1136.8,1023.0 1138.4,1024.2 1140.1,1023.8 1141.7,1024.1 1143.3,1026.1 1144.9,1024.2 1146.5,1019.8 1148.1,1023.5 1149.7,1022.9 1151.3,1024.4 1152.9,1021.1 1154.5,1022.3 1156.1,1022.6 1157.7,1025.6 1159.3,1023.4 1160.9,1024.0 1162.5,1023.4 1164.1,1024.6 1165.7,1020.9 1167.3,1026.6 1168.9,1025.1 1170.5,1025.4 1172.1,1020.5 1173.7,1025.0 1175.3,1026.0 1176.9,1025.0 1178.5,1024.0 1180.1,1024.7 1181.8,1025.9 1183.4,1026.7 1185.0,1024.6 1186.6,1024.9 1188.2,1023.2 1189.8,1027.7 1191.4,1027.0 1193.0,1025.1 1194.6,1024.4 1196.2,1025.9 1197.8,1025.2 1199.4,1025.6 1201.0,1024.8 1202.6,1026.0 1204.2,1025.6 1205.8,1027.8 1207.4,1024.3 1209.0,1028.1 1210.6,1025.2 1212.2,1026.5 1213.8,1025.3 1215.4,1027.1 1217.0,1024.0 1218.6,1028.2 1220.2,1024.0 1221.9,1025.2 1223.5,1022.0 1225.1,1028.0 1226.7,1027.4 1228.3,1028.2 1229.9,1026.9 1231.5,1027.3 1233.1,1025.0 1234.7,1030.3 1236.3,1025.4 1237.9,1028.0 1239.5,1026.4 1241.1,1027.7 1242.7,1027.8 1244.3,1029.0 1245.9,1026.8 1247.5,1027.2 1249.1,1027.2 1250.7,1026.6 1252.3,1026.3 1253.9,1028.4 1255.5,1027.1 1257.1,1027.5 1258.7,1028.5 1260.3,1029.8 1261.9,1027.4 1263.6,1027.7 1265.2,1028.4 1266.8,1030.0 1268.4,1027.0 1270.0,1027.6 1271.6,1028.4 1273.2,1030.1 1274.8,1026.9 1276.4,1027.9 1278.0,1029.2 1279.6,1030.0 1281.2,1027.8 1282.8,1029.9 1284.4,1027.7 1286.0,1029.5 1287.6,1029.7 1289.2,1027.3 1290.8,1029.0 1292.4,1027.8 1294.0,1027.1 1295.6,1029.1 1297.2,1028.2 1298.8,1030.6 1300.4,1029.7 1302.0,1030.9 1303.6,1029.8 1305.3,1029.8 1306.9,1030.3 1308.5,1028.5 1310.1,1025.6 1311.7,1032.1 1313.3,1029.8 1314.9,1030.1 1316.5,1028.5 1318.1,1030.1 1319.7,1028.9 1321.3,1029.7 1322.9,1029.3 1324.5,1029.7 1326.1,1028.1 1327.7,1026.4 1329.3,1027.5 1330.9,1027.7 1332.5,1030.0 1334.1,1032.2 1335.7,1030.0 1337.3,1031.2 1338.9,1028.5 1340.5,1029.1 1342.1,1030.2 1343.7,1031.5 1345.4,1029.7 1347.0,1031.4 1348.6,1030.1 1350.2,1030.2 1351.8,1030.2 1353.4,1029.7 1355.0,1028.9 1356.6,1031.4 1358.2,1029.9 1359.8,1029.8 1361.4,1029.7 1363.0,1032.3 1364.6,1030.0 1366.2,1031.9 1367.8,1028.4 1369.4,1032.3 1371.0,1030.2 1372.6,1032.7 1374.2,1028.5 1375.8,1030.3 1377.4,1030.2 1379.0,1031.2 1380.6,1029.5 1382.2,1030.1 1383.8,1029.7 1385.4,1031.9 1387.1,1029.8 1388.7,1032.9 1390.3,1030.2 1391.9,1031.3 1393.5,1030.7 1395.1,1031.1 1396.7,1029.8 1398.3,1031.3 1399.9,1031.5 1401.5,1030.9 1403.1,1029.5 1404.7,1030.1 1406.3,1029.3 1407.9,1030.3 1409.5,1030.0 1411.1,1033.6 1412.7,1031.2 1414.3,1032.4 1415.9,1028.7 1417.5,1030.4 1419.1,1030.7 1420.7,1030.6 1422.3,1030.9 1423.9,1031.0 1425.5,1031.3 1427.1,1032.1 1428.8,1031.9 1430.4,1031.4 1432.0,1029.1 1433.6,1032.6 1435.2,1030.4 1436.8,1031.0 1438.4,1029.5 1440.0,1031.0 1441.6,1030.7 1443.2,1030.6 1444.8,1031.4 1446.4,1030.4 1448.0,1030.6 1449.6,1032.0 1451.2,1029.8 1452.8,1031.2 1454.4,1031.1 1456.0,1032.3 1457.6,1030.9 1459.2,1031.8 1460.8,1030.2 1462.4,1032.4 1464.0,1028.7 1465.6,1031.4 1467.2,1029.7 1468.9,1031.8 1470.5,1028.7 1472.1,1030.8 1473.7,1030.5 1475.3,1032.0 1476.9,1030.7 1478.5,1031.6 1480.1,1030.8 1481.7,1031.1 1483.3,1030.5 1484.9,1033.3 1486.5,1028.3 1488.1,1031.9 1489.7,1030.5 1491.3,1031.2 1492.9,1030.6 1494.5,1031.7 1496.1,1030.5 1497.7,1032.6 1499.3,1030.8 1500.9,1031.1 1502.5,1030.8 1504.1,1031.0 1505.7,1029.5 1507.3,1031.8 1508.9,1030.3 1510.6,1031.5 1512.2,1030.2 1513.8,1032.1 1515.4,1031.6 1517.0,1031.4 1518.6,1030.8 1520.2,1031.5 1521.8,1031.5 1523.4,1032.3 1525.0,1030.6 1526.6,1032.0 1528.2,1031.9 1529.8,1032.0 1531.4,1031.9 1533.0,1032.7 1534.6,1031.3 1536.2,1032.2 1537.8,1030.8 1539.4,1030.5 1541.0,1031.1 1542.6,1032.1 1544.2,1031.2 1545.8,1032.3 1547.4,1030.1 1549.0,1033.4 1550.6,1032.3 1552.3,1031.9 1553.9,1031.7 1555.5,1031.9 1557.1,1031.0 1558.7,1031.9 1560.3,1031.0 1561.9,1032.6 1563.5,1031.0 1565.1,1031.8 1566.7,1031.9 1568.3,1031.9 1569.9,1031.7 1571.5,1032.3 1573.1,1031.7 1574.7,1032.8 1576.3,1032.2 1577.9,1032.0"/>
</g>
<rect x="232.30" y="35.50" width="1409.70" height="1050.40" fill="none" stroke="#000" stroke-width="3.33" stroke-linejoin="miter"/>
<g stroke="#000" stroke-width="3.33" fill="none">
<line x1="296.40" y1="1085.90" x2="296.40" y2="1100.20"/>
<line x1="456.79" y1="1085.90" x2="456.79" y2="1100.20"/>
<line x1="617.18" y1="1085.90" x2="617.18" y2="1100.20"/>
<line x1="777.57" y1="1085.90" x2="777.57" y2="1100.20"/>
<line x1="937.96" y1="1085.90" x2="937.96" y2="1100.20"/>
<line x1="1098.35" y1="1085.90" x2="1098.35" y2="1100.20"/>
<line x1="1258.74" y1="1085.90" x2="1258.74" y2="1100.20"/>
<line x1="1419.13" y1="1085.90" x2="1419.13" y2="1100.20"/>
<line x1="1579.52" y1="1085.90" x2="1579.52" y2="1100.20"/>
<line x1="218.00" y1="1038.30" x2="232.30" y2="1038.30"/>
<line x1="218.00" y1="857.94" x2="232.30" y2="857.94"/>
<line x1="218.00" y1="677.58" x2="232.30" y2="677.58"/>
<line x1="218.00" y1="497.22" x2="232.30" y2="497.22"/>
<line x1="218.00" y1="316.86" x2="232.30" y2="316.86"/>
<line x1="218.00" y1="136.50" x2="232.30" y2="136.50"/>
</g>
<g font-size="47.20px">
<text x="296.40" y="1149.50" text-anchor="middle">0</text>
<text x="456.79" y="1149.50" text-anchor="middle">100</text>
<text x="617.18" y="1149.50" text-anchor="middle">200</text>
<text x="777.57" y="1149.50" text-anchor="middle">300</text>
<text x="937.96" y="1149.50" text-anchor="middle">400</text>
<text x="1098.35" y="1149.50" text-anchor="middle">500</text>
<text x="1258.74" y="1149.50" text-anchor="middle">600</text>
<text x="1419.13" y="1149.50" text-anchor="middle">700</text>
<text x="1579.52" y="1149.50" text-anchor="middle">800</text>
<text x="204.60" y="1056.60" text-anchor="end">0.00</text>
<text x="204.60" y="876.24" text-anchor="end">0.02</text>
<text x="204.60" y="695.88" text-anchor="end">0.04</text>
<text x="204.60" y="515.52" text-anchor="end">0.06</text>
<text x="204.60" y="335.16" text-anchor="end">0.08</text>
<text x="204.60" y="154.80" text-anchor="end">0.10</text>
</g>
<text x="937.15" y="1216.60" text-anchor="middle" font-size="55.20px">Step</text>
<text transform="translate(71.90 560.70) rotate(-90)" text-anchor="middle" font-size="55.20px">Magnitude of the loss</text>
<rect x="1136.30" y="63.20" width="477.70" height="503.30" rx="8.5" ry="8.5" fill="#fff" fill-opacity="0.8" stroke="#d6d6d6" stroke-width="4.17"/>
<line x1="1158" y1="107.80" x2="1268.8" y2="107.80" stroke="#1f77b4" stroke-width="6.25" stroke-dasharray="23.80 11.70"/>
<text x="1312.5" y="126.50" font-size="55.20px">LSTM</text>
<line x1="1158" y1="189.00" x2="1268.8" y2="189.00" stroke="#ff7f0e" stroke-width="6.25" stroke-dasharray="23.80 11.70"/>
<text x="1312.5" y="207.70" font-size="55.20px">CNN</text>
<line x1="1158" y1="270.20" x2="1268.8" y2="270.20" stroke="#2ca02c" stroke-width="6.25" stroke-dasharray="23.80 11.70"/>
<text x="1312.5" y="288.90" font-size="55.20px">3D-CNN</text>
<line x1="1158" y1="351.40" x2="1268.8" y2="351.40" stroke="#d62728" stroke-width="6.25" stroke-dasharray="23.80 11.70"/>
<text x="1312.5" y="370.10" font-size="55.20px">ST-ResNet</text>
<line x1="1158" y1="432.60" x2="1268.8" y2="432.60" stroke="#9467bd" stroke-width="6.25" stroke-dasharray="23.80 11.70"/>
<text x="1312.5" y="451.30" font-size="55.20px">ST-3DNet</text>
<line x1="1158" y1="513.80" x2="1268.8" y2="513.80" stroke="#8c564b" stroke-width="6.25" stroke-dasharray="23.80 11.70"/>
<text x="1312.5" y="532.50" font-size="55.20px">ST-3DRCN</text>
</svg></body></html>
